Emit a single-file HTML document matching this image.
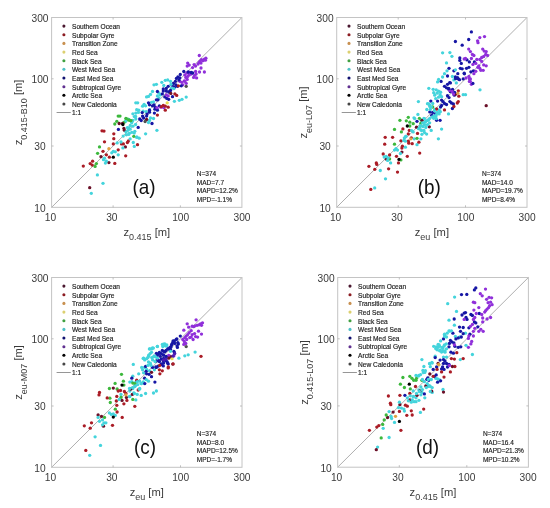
<!DOCTYPE html>
<html><head><meta charset="utf-8"><style>
html,body{margin:0;padding:0;background:#fff;width:550px;height:508px;overflow:hidden}
svg{display:block;filter:blur(0.3px)}
text{font-family:"Liberation Sans", Arial, sans-serif;fill:#333}
.tk{font-size:10.2px;fill:#3a3a3a}
.lg{font-size:6.6px;fill:#262626;stroke:#262626;stroke-width:0.18px}
.st{font-size:6.5px;fill:#202020;stroke:#202020;stroke-width:0.15px}
.lt{font-size:20.3px;fill:#111}
.lb{font-size:11.2px;fill:#3a3a3a}
.sb{font-size:9px}
</style></head><body>
<svg width="550" height="508" viewBox="0 0 550 508">
<rect width="550" height="508" fill="#fff"/>
<line x1="51.6" y1="207.35" x2="241.9" y2="17.5" stroke="#9a9a9a" stroke-width="0.8"/>
<circle cx="199.3" cy="55.5" r="1.65" fill="#9030da"/>
<circle cx="205.9" cy="58.2" r="1.65" fill="#9030da"/>
<circle cx="204.4" cy="59.2" r="1.65" fill="#9030da"/>
<circle cx="203.0" cy="60.7" r="1.65" fill="#9030da"/>
<circle cx="201.5" cy="59.7" r="1.65" fill="#9030da"/>
<circle cx="200.0" cy="61.2" r="1.65" fill="#9030da"/>
<circle cx="199.0" cy="62.6" r="1.65" fill="#9030da"/>
<circle cx="201.0" cy="63.1" r="1.65" fill="#9030da"/>
<circle cx="205.4" cy="60.2" r="1.65" fill="#9030da"/>
<circle cx="198.0" cy="64.1" r="1.65" fill="#9030da"/>
<circle cx="187.7" cy="63.1" r="1.65" fill="#9030da"/>
<circle cx="187.2" cy="66.1" r="1.65" fill="#9030da"/>
<circle cx="189.2" cy="65.1" r="1.65" fill="#9030da"/>
<circle cx="194.1" cy="64.6" r="1.65" fill="#9030da"/>
<circle cx="195.6" cy="66.1" r="1.65" fill="#9030da"/>
<circle cx="192.6" cy="67.6" r="1.65" fill="#9030da"/>
<circle cx="201.0" cy="68.0" r="1.65" fill="#9030da"/>
<circle cx="199.5" cy="72.0" r="1.65" fill="#9030da"/>
<circle cx="204.4" cy="72.0" r="1.65" fill="#9030da"/>
<circle cx="195.6" cy="71.5" r="1.65" fill="#9030da"/>
<circle cx="196.1" cy="74.0" r="1.65" fill="#9030da"/>
<circle cx="194.6" cy="75.4" r="1.65" fill="#9030da"/>
<circle cx="193.6" cy="77.4" r="1.65" fill="#9030da"/>
<circle cx="196.6" cy="77.9" r="1.65" fill="#9030da"/>
<circle cx="191.2" cy="74.0" r="1.65" fill="#9030da"/>
<circle cx="189.2" cy="74.9" r="1.65" fill="#9030da"/>
<circle cx="187.7" cy="76.4" r="1.65" fill="#9030da"/>
<circle cx="185.8" cy="77.4" r="1.65" fill="#9030da"/>
<circle cx="184.8" cy="74.9" r="1.65" fill="#9030da"/>
<circle cx="186.7" cy="73.0" r="1.65" fill="#9030da"/>
<circle cx="189.2" cy="72.5" r="1.65" fill="#9030da"/>
<circle cx="187.2" cy="79.4" r="1.65" fill="#9030da"/>
<circle cx="184.3" cy="80.8" r="1.65" fill="#9030da"/>
<circle cx="181.8" cy="82.3" r="1.65" fill="#9030da"/>
<circle cx="186.2" cy="83.3" r="1.65" fill="#9030da"/>
<circle cx="182.8" cy="84.8" r="1.65" fill="#9030da"/>
<circle cx="184.8" cy="81.3" r="1.65" fill="#9030da"/>
<circle cx="179.8" cy="81.3" r="1.65" fill="#9030da"/>
<circle cx="183.8" cy="71.5" r="1.65" fill="#1616a4"/>
<circle cx="188.2" cy="72.0" r="1.65" fill="#1616a4"/>
<circle cx="191.2" cy="72.5" r="1.65" fill="#1616a4"/>
<circle cx="192.6" cy="73.0" r="1.65" fill="#1616a4"/>
<circle cx="180.3" cy="74.5" r="1.65" fill="#1616a4"/>
<circle cx="177.9" cy="76.9" r="1.65" fill="#1616a4"/>
<circle cx="176.4" cy="78.4" r="1.65" fill="#1616a4"/>
<circle cx="179.8" cy="77.9" r="1.65" fill="#1616a4"/>
<circle cx="178.9" cy="79.9" r="1.65" fill="#1616a4"/>
<circle cx="175.4" cy="81.3" r="1.65" fill="#1616a4"/>
<circle cx="173.4" cy="83.3" r="1.65" fill="#1616a4"/>
<circle cx="172.0" cy="85.3" r="1.65" fill="#1616a4"/>
<circle cx="175.9" cy="84.8" r="1.65" fill="#1616a4"/>
<circle cx="174.4" cy="87.2" r="1.65" fill="#1616a4"/>
<circle cx="177.4" cy="86.3" r="1.65" fill="#1616a4"/>
<circle cx="181.3" cy="85.8" r="1.65" fill="#1616a4"/>
<circle cx="170.5" cy="81.3" r="1.65" fill="#44d4dc"/>
<circle cx="171.0" cy="84.3" r="1.65" fill="#44d4dc"/>
<circle cx="171.5" cy="88.2" r="1.65" fill="#44d4dc"/>
<circle cx="173.9" cy="88.7" r="1.65" fill="#44d4dc"/>
<circle cx="178.4" cy="85.8" r="1.65" fill="#aa1c26"/>
<circle cx="186.2" cy="86.3" r="1.65" fill="#505050"/>
<circle cx="154.0" cy="84.8" r="1.65" fill="#44d4dc"/>
<circle cx="156.4" cy="84.3" r="1.65" fill="#44d4dc"/>
<circle cx="161.8" cy="82.3" r="1.65" fill="#44d4dc"/>
<circle cx="165.3" cy="80.3" r="1.65" fill="#44d4dc"/>
<circle cx="167.7" cy="79.9" r="1.65" fill="#44d4dc"/>
<circle cx="163.8" cy="85.5" r="1.65" fill="#44d4dc"/>
<circle cx="168.2" cy="86.3" r="1.65" fill="#1616a4"/>
<circle cx="166.3" cy="88.4" r="1.65" fill="#1616a4"/>
<circle cx="163.3" cy="88.9" r="1.65" fill="#1616a4"/>
<circle cx="152.5" cy="91.5" r="1.65" fill="#44d4dc"/>
<circle cx="150.5" cy="94.4" r="1.65" fill="#44d4dc"/>
<circle cx="148.5" cy="96.4" r="1.65" fill="#44d4dc"/>
<circle cx="146.6" cy="96.9" r="1.65" fill="#44d4dc"/>
<circle cx="158.9" cy="93.0" r="1.65" fill="#44d4dc"/>
<circle cx="160.3" cy="94.9" r="1.65" fill="#44d4dc"/>
<circle cx="157.4" cy="95.9" r="1.65" fill="#44d4dc"/>
<circle cx="158.9" cy="97.9" r="1.65" fill="#44d4dc"/>
<circle cx="135.8" cy="102.8" r="1.65" fill="#44d4dc"/>
<circle cx="137.7" cy="102.8" r="1.65" fill="#44d4dc"/>
<circle cx="144.1" cy="104.3" r="1.65" fill="#44d4dc"/>
<circle cx="142.6" cy="106.2" r="1.65" fill="#44d4dc"/>
<circle cx="145.6" cy="105.8" r="1.65" fill="#44d4dc"/>
<circle cx="136.7" cy="109.7" r="1.65" fill="#44d4dc"/>
<circle cx="138.7" cy="110.2" r="1.65" fill="#44d4dc"/>
<circle cx="135.8" cy="113.1" r="1.65" fill="#44d4dc"/>
<circle cx="143.1" cy="111.2" r="1.65" fill="#44d4dc"/>
<circle cx="146.1" cy="111.7" r="1.65" fill="#44d4dc"/>
<circle cx="149.5" cy="109.7" r="1.65" fill="#44d4dc"/>
<circle cx="151.5" cy="102.3" r="1.65" fill="#44d4dc"/>
<circle cx="153.5" cy="101.8" r="1.65" fill="#44d4dc"/>
<circle cx="134.3" cy="116.6" r="1.65" fill="#44d4dc"/>
<circle cx="135.8" cy="119.0" r="1.65" fill="#44d4dc"/>
<circle cx="132.8" cy="120.5" r="1.65" fill="#44d4dc"/>
<circle cx="131.8" cy="122.5" r="1.65" fill="#44d4dc"/>
<circle cx="130.3" cy="125.4" r="1.65" fill="#44d4dc"/>
<circle cx="128.9" cy="127.9" r="1.65" fill="#44d4dc"/>
<circle cx="127.9" cy="130.3" r="1.65" fill="#44d4dc"/>
<circle cx="129.3" cy="133.3" r="1.65" fill="#44d4dc"/>
<circle cx="131.8" cy="132.3" r="1.65" fill="#44d4dc"/>
<circle cx="126.4" cy="134.8" r="1.65" fill="#44d4dc"/>
<circle cx="134.8" cy="131.3" r="1.65" fill="#44d4dc"/>
<circle cx="136.7" cy="137.2" r="1.65" fill="#44d4dc"/>
<circle cx="139.2" cy="138.2" r="1.65" fill="#44d4dc"/>
<circle cx="150.5" cy="118.0" r="1.65" fill="#44d4dc"/>
<circle cx="153.5" cy="118.5" r="1.65" fill="#44d4dc"/>
<circle cx="149.5" cy="120.5" r="1.65" fill="#44d4dc"/>
<circle cx="148.5" cy="122.5" r="1.65" fill="#44d4dc"/>
<circle cx="145.6" cy="133.8" r="1.65" fill="#44d4dc"/>
<circle cx="156.9" cy="130.3" r="1.65" fill="#44d4dc"/>
<circle cx="126.9" cy="119.5" r="1.65" fill="#44d4dc"/>
<circle cx="125.4" cy="121.5" r="1.65" fill="#44d4dc"/>
<circle cx="125.9" cy="118.5" r="1.65" fill="#3cb83c"/>
<circle cx="128.4" cy="119.5" r="1.65" fill="#3cb83c"/>
<circle cx="130.3" cy="120.5" r="1.65" fill="#3cb83c"/>
<circle cx="123.9" cy="122.5" r="1.65" fill="#3cb83c"/>
<circle cx="120.0" cy="116.1" r="1.65" fill="#3cb83c"/>
<circle cx="133.8" cy="136.3" r="1.65" fill="#3cb83c"/>
<circle cx="157.4" cy="91.5" r="1.65" fill="#1616a4"/>
<circle cx="163.3" cy="91.0" r="1.65" fill="#1616a4"/>
<circle cx="166.3" cy="91.0" r="1.65" fill="#1616a4"/>
<circle cx="168.7" cy="92.0" r="1.65" fill="#1616a4"/>
<circle cx="162.3" cy="93.9" r="1.65" fill="#1616a4"/>
<circle cx="164.8" cy="96.9" r="1.65" fill="#1616a4"/>
<circle cx="166.8" cy="98.4" r="1.65" fill="#1616a4"/>
<circle cx="168.7" cy="99.3" r="1.65" fill="#1616a4"/>
<circle cx="156.4" cy="99.8" r="1.65" fill="#1616a4"/>
<circle cx="157.9" cy="99.8" r="1.65" fill="#1616a4"/>
<circle cx="148.5" cy="102.8" r="1.65" fill="#1616a4"/>
<circle cx="149.5" cy="104.8" r="1.65" fill="#1616a4"/>
<circle cx="152.5" cy="105.8" r="1.65" fill="#1616a4"/>
<circle cx="154.0" cy="104.8" r="1.65" fill="#1616a4"/>
<circle cx="155.4" cy="107.2" r="1.65" fill="#1616a4"/>
<circle cx="156.9" cy="108.7" r="1.65" fill="#1616a4"/>
<circle cx="159.4" cy="105.8" r="1.65" fill="#1616a4"/>
<circle cx="157.4" cy="110.2" r="1.65" fill="#1616a4"/>
<circle cx="154.4" cy="113.1" r="1.65" fill="#1616a4"/>
<circle cx="149.5" cy="110.2" r="1.65" fill="#1616a4"/>
<circle cx="149.5" cy="112.2" r="1.65" fill="#1616a4"/>
<circle cx="147.1" cy="114.1" r="1.65" fill="#1616a4"/>
<circle cx="142.2" cy="112.6" r="1.65" fill="#1616a4"/>
<circle cx="142.6" cy="116.1" r="1.65" fill="#1616a4"/>
<circle cx="146.6" cy="116.1" r="1.65" fill="#1616a4"/>
<circle cx="139.7" cy="119.0" r="1.65" fill="#1616a4"/>
<circle cx="141.2" cy="120.5" r="1.65" fill="#1616a4"/>
<circle cx="143.6" cy="118.0" r="1.65" fill="#1616a4"/>
<circle cx="138.2" cy="127.4" r="1.65" fill="#1616a4"/>
<circle cx="152.0" cy="123.5" r="1.65" fill="#1616a4"/>
<circle cx="154.9" cy="109.2" r="1.65" fill="#1616a4"/>
<circle cx="168.2" cy="95.9" r="1.65" fill="#9030da"/>
<circle cx="166.3" cy="94.9" r="1.65" fill="#9030da"/>
<circle cx="160.8" cy="107.2" r="1.65" fill="#9030da"/>
<circle cx="156.9" cy="107.7" r="1.65" fill="#9030da"/>
<circle cx="163.8" cy="107.7" r="1.65" fill="#9030da"/>
<circle cx="163.3" cy="105.3" r="1.65" fill="#aa1c26"/>
<circle cx="165.3" cy="106.2" r="1.65" fill="#aa1c26"/>
<circle cx="168.2" cy="107.2" r="1.65" fill="#aa1c26"/>
<circle cx="165.3" cy="110.2" r="1.65" fill="#aa1c26"/>
<circle cx="157.4" cy="115.1" r="1.65" fill="#aa1c26"/>
<circle cx="161.3" cy="106.7" r="1.65" fill="#aa1c26"/>
<circle cx="122.5" cy="123.5" r="1.65" fill="#6a1028"/>
<circle cx="123.9" cy="128.4" r="1.65" fill="#6a1028"/>
<circle cx="124.4" cy="130.3" r="1.65" fill="#6a1028"/>
<circle cx="122.9" cy="124.5" r="1.65" fill="#000000"/>
<circle cx="167.2" cy="102.8" r="1.65" fill="#e8e050"/>
<circle cx="146.6" cy="119.5" r="1.65" fill="#6a1028"/>
<circle cx="145.1" cy="121.5" r="1.65" fill="#505050"/>
<circle cx="170.5" cy="90.5" r="1.65" fill="#1616a4"/>
<circle cx="170.8" cy="93.4" r="1.65" fill="#6a1028"/>
<circle cx="172.5" cy="96.7" r="1.65" fill="#1616a4"/>
<circle cx="174.9" cy="93.9" r="1.65" fill="#aa1c26"/>
<circle cx="176.7" cy="95.4" r="1.65" fill="#aa1c26"/>
<circle cx="174.4" cy="101.3" r="1.65" fill="#44d4dc"/>
<circle cx="179.3" cy="100.3" r="1.65" fill="#44d4dc"/>
<circle cx="182.0" cy="99.3" r="1.65" fill="#44d4dc"/>
<circle cx="186.2" cy="97.1" r="1.65" fill="#44d4dc"/>
<circle cx="118.2" cy="116.1" r="1.65" fill="#3cb83c"/>
<circle cx="116.8" cy="121.3" r="1.65" fill="#3cb83c"/>
<circle cx="114.8" cy="124.0" r="1.65" fill="#3cb83c"/>
<circle cx="102.0" cy="130.8" r="1.65" fill="#aa1c26"/>
<circle cx="104.0" cy="131.1" r="1.65" fill="#aa1c26"/>
<circle cx="113.8" cy="133.8" r="1.65" fill="#aa1c26"/>
<circle cx="113.8" cy="138.7" r="1.65" fill="#aa1c26"/>
<circle cx="118.4" cy="129.4" r="1.65" fill="#1616a4"/>
<circle cx="119.2" cy="123.5" r="1.65" fill="#6a1028"/>
<circle cx="104.5" cy="141.8" r="1.65" fill="#aa1c26"/>
<circle cx="113.3" cy="143.9" r="1.65" fill="#aa1c26"/>
<circle cx="118.2" cy="149.8" r="1.65" fill="#aa1c26"/>
<circle cx="109.4" cy="157.2" r="1.65" fill="#aa1c26"/>
<circle cx="103.0" cy="151.3" r="1.65" fill="#aa1c26"/>
<circle cx="106.4" cy="154.8" r="1.65" fill="#aa1c26"/>
<circle cx="92.6" cy="161.2" r="1.65" fill="#aa1c26"/>
<circle cx="90.2" cy="163.6" r="1.65" fill="#aa1c26"/>
<circle cx="92.2" cy="165.1" r="1.65" fill="#aa1c26"/>
<circle cx="83.3" cy="166.1" r="1.65" fill="#aa1c26"/>
<circle cx="114.8" cy="163.4" r="1.65" fill="#aa1c26"/>
<circle cx="89.7" cy="187.7" r="1.65" fill="#6a1028"/>
<circle cx="101.0" cy="156.7" r="1.65" fill="#6a1028"/>
<circle cx="108.9" cy="162.6" r="1.65" fill="#6a1028"/>
<circle cx="99.5" cy="146.9" r="1.65" fill="#3cb83c"/>
<circle cx="97.6" cy="153.3" r="1.65" fill="#3cb83c"/>
<circle cx="96.4" cy="163.6" r="1.65" fill="#3cb83c"/>
<circle cx="95.1" cy="166.4" r="1.65" fill="#3cb83c"/>
<circle cx="108.9" cy="148.7" r="1.65" fill="#e0a040"/>
<circle cx="113.3" cy="151.3" r="1.65" fill="#44d4dc"/>
<circle cx="111.8" cy="152.8" r="1.65" fill="#44d4dc"/>
<circle cx="115.3" cy="151.8" r="1.65" fill="#44d4dc"/>
<circle cx="118.2" cy="154.8" r="1.65" fill="#44d4dc"/>
<circle cx="104.5" cy="158.2" r="1.65" fill="#44d4dc"/>
<circle cx="103.5" cy="159.7" r="1.65" fill="#44d4dc"/>
<circle cx="106.4" cy="161.2" r="1.65" fill="#44d4dc"/>
<circle cx="105.4" cy="163.1" r="1.65" fill="#44d4dc"/>
<circle cx="97.4" cy="174.9" r="1.65" fill="#44d4dc"/>
<circle cx="103.0" cy="183.3" r="1.65" fill="#44d4dc"/>
<circle cx="117.2" cy="142.9" r="1.65" fill="#44d4dc"/>
<circle cx="113.3" cy="157.2" r="1.65" fill="#000000"/>
<circle cx="128.4" cy="141.0" r="1.65" fill="#aa1c26"/>
<circle cx="127.4" cy="142.5" r="1.65" fill="#aa1c26"/>
<circle cx="121.5" cy="143.9" r="1.65" fill="#aa1c26"/>
<circle cx="123.4" cy="143.9" r="1.65" fill="#aa1c26"/>
<circle cx="125.4" cy="146.9" r="1.65" fill="#6a1028"/>
<circle cx="137.5" cy="144.7" r="1.65" fill="#aa1c26"/>
<circle cx="125.7" cy="155.8" r="1.65" fill="#aa1c26"/>
<circle cx="122.9" cy="147.9" r="1.65" fill="#44d4dc"/>
<circle cx="133.3" cy="142.5" r="1.65" fill="#44d4dc"/>
<circle cx="134.3" cy="146.4" r="1.65" fill="#44d4dc"/>
<circle cx="121.0" cy="142.0" r="1.65" fill="#44d4dc"/>
<circle cx="91.3" cy="193.3" r="1.65" fill="#44d4dc"/>
<circle cx="126.0" cy="120.7" r="1.65" fill="#44d4dc"/>
<circle cx="128.7" cy="119.3" r="1.65" fill="#44d4dc"/>
<circle cx="131.5" cy="122.0" r="1.65" fill="#44d4dc"/>
<circle cx="127.4" cy="127.6" r="1.65" fill="#44d4dc"/>
<circle cx="130.1" cy="129.2" r="1.65" fill="#44d4dc"/>
<circle cx="132.9" cy="126.2" r="1.65" fill="#44d4dc"/>
<circle cx="135.6" cy="124.5" r="1.65" fill="#44d4dc"/>
<circle cx="126.0" cy="132.0" r="1.65" fill="#44d4dc"/>
<circle cx="128.7" cy="134.4" r="1.65" fill="#44d4dc"/>
<circle cx="134.2" cy="133.1" r="1.65" fill="#44d4dc"/>
<circle cx="137.0" cy="137.2" r="1.65" fill="#44d4dc"/>
<circle cx="123.2" cy="136.1" r="1.65" fill="#44d4dc"/>
<circle cx="130.1" cy="138.9" r="1.65" fill="#44d4dc"/>
<circle cx="135.6" cy="116.5" r="1.65" fill="#44d4dc"/>
<circle cx="138.4" cy="112.4" r="1.65" fill="#44d4dc"/>
<circle cx="132.9" cy="113.8" r="1.65" fill="#44d4dc"/>
<circle cx="126.3" cy="118.6" r="1.65" fill="#3cb83c"/>
<circle cx="128.7" cy="120.0" r="1.65" fill="#3cb83c"/>
<circle cx="130.9" cy="120.6" r="1.65" fill="#3cb83c"/>
<rect x="51.6" y="17.5" width="190.3" height="189.85" fill="none" stroke="#c4c4c4" stroke-width="1"/>
<line x1="113.1" y1="207.35" x2="113.1" y2="205.35" stroke="#b0b0b0" stroke-width="0.8"/>
<line x1="113.1" y1="17.5" x2="113.1" y2="19.5" stroke="#b0b0b0" stroke-width="0.8"/>
<line x1="51.6" y1="146.0" x2="53.6" y2="146.0" stroke="#b0b0b0" stroke-width="0.8"/>
<line x1="241.9" y1="146.0" x2="239.9" y2="146.0" stroke="#b0b0b0" stroke-width="0.8"/>
<line x1="180.4" y1="207.35" x2="180.4" y2="205.35" stroke="#b0b0b0" stroke-width="0.8"/>
<line x1="180.4" y1="17.5" x2="180.4" y2="19.5" stroke="#b0b0b0" stroke-width="0.8"/>
<line x1="51.6" y1="78.8" x2="53.6" y2="78.8" stroke="#b0b0b0" stroke-width="0.8"/>
<line x1="241.9" y1="78.8" x2="239.9" y2="78.8" stroke="#b0b0b0" stroke-width="0.8"/>
<text x="40.0" y="211.7" class="tk" text-anchor="middle">10</text>
<text x="50.5" y="221.0" class="tk" text-anchor="middle">10</text>
<text x="40.0" y="150.3" class="tk" text-anchor="middle">30</text>
<text x="111.8" y="221.0" class="tk" text-anchor="middle">30</text>
<text x="40.0" y="83.1" class="tk" text-anchor="middle">100</text>
<text x="180.7" y="221.0" class="tk" text-anchor="middle">100</text>
<text x="40.0" y="21.8" class="tk" text-anchor="middle">300</text>
<text x="242.0" y="221.0" class="tk" text-anchor="middle">300</text>
<circle cx="63.9" cy="26.1" r="1.55" fill="#4a1830"/>
<text x="72.0" y="28.9" class="lg">Southern Ocean</text>
<circle cx="63.9" cy="34.8" r="1.55" fill="#8c1c22"/>
<text x="72.0" y="37.5" class="lg">Subpolar Gyre</text>
<circle cx="63.9" cy="43.4" r="1.55" fill="#c89050"/>
<text x="72.0" y="46.2" class="lg">Transition Zone</text>
<circle cx="63.9" cy="52.1" r="1.55" fill="#dcd070"/>
<text x="72.0" y="54.9" class="lg">Red Sea</text>
<circle cx="63.9" cy="60.7" r="1.55" fill="#40a040"/>
<text x="72.0" y="63.5" class="lg">Black Sea</text>
<circle cx="63.9" cy="69.3" r="1.55" fill="#50c0c8"/>
<text x="72.0" y="72.2" class="lg">West Med Sea</text>
<circle cx="63.9" cy="78.0" r="1.55" fill="#101070"/>
<text x="72.0" y="80.8" class="lg">East Med Sea</text>
<circle cx="63.9" cy="86.7" r="1.55" fill="#603090"/>
<text x="72.0" y="89.5" class="lg">Subtropical Gyre</text>
<circle cx="63.9" cy="95.3" r="1.55" fill="#000000"/>
<text x="72.0" y="98.1" class="lg">Arctic Sea</text>
<circle cx="63.9" cy="104.0" r="1.55" fill="#454545"/>
<text x="72.0" y="106.8" class="lg">New Caledonia</text>
<line x1="56.6" y1="112.5" x2="70.8" y2="112.5" stroke="#8a8a8a" stroke-width="0.9"/>
<text x="72.0" y="115.4" class="lg">1:1</text>
<text x="196.8" y="175.7" class="st">N=374</text>
<text x="196.8" y="184.5" class="st">MAD=7.7</text>
<text x="196.8" y="193.3" class="st">MAPD=12.2%</text>
<text x="196.8" y="202.1" class="st">MPD=-1.1%</text>
<text transform="translate(144.1,193.7) scale(0.93,1.01)" class="lt" text-anchor="middle">(a)</text>
<text x="146.8" y="235.8" class="lb" text-anchor="middle">z<tspan class="sb" dy="4.6">0.415</tspan><tspan dy="-4.6"> [m]</tspan></text>
<text transform="translate(22.1,112.4) rotate(-90)" class="lb" text-anchor="middle">z<tspan class="sb" dy="4.6">0.415-B10</tspan><tspan dy="-4.6"> [m]</tspan></text>
<line x1="336.7" y1="207.3" x2="527.0" y2="17.5" stroke="#9a9a9a" stroke-width="0.8"/>
<circle cx="471.4" cy="31.9" r="1.65" fill="#1616a4"/>
<circle cx="468.7" cy="39.5" r="1.65" fill="#1616a4"/>
<circle cx="467.0" cy="59.9" r="1.65" fill="#1616a4"/>
<circle cx="469.4" cy="61.9" r="1.65" fill="#1616a4"/>
<circle cx="474.4" cy="61.9" r="1.65" fill="#1616a4"/>
<circle cx="468.9" cy="67.3" r="1.65" fill="#1616a4"/>
<circle cx="466.5" cy="68.3" r="1.65" fill="#1616a4"/>
<circle cx="473.4" cy="70.8" r="1.65" fill="#1616a4"/>
<circle cx="470.9" cy="71.8" r="1.65" fill="#1616a4"/>
<circle cx="479.8" cy="37.6" r="1.65" fill="#9030da"/>
<circle cx="484.5" cy="36.6" r="1.65" fill="#9030da"/>
<circle cx="477.6" cy="40.8" r="1.65" fill="#9030da"/>
<circle cx="478.0" cy="42.7" r="1.65" fill="#9030da"/>
<circle cx="468.7" cy="49.1" r="1.65" fill="#9030da"/>
<circle cx="470.4" cy="51.6" r="1.65" fill="#9030da"/>
<circle cx="472.4" cy="54.5" r="1.65" fill="#9030da"/>
<circle cx="473.9" cy="55.5" r="1.65" fill="#9030da"/>
<circle cx="482.7" cy="49.1" r="1.65" fill="#9030da"/>
<circle cx="484.2" cy="51.1" r="1.65" fill="#9030da"/>
<circle cx="486.2" cy="51.6" r="1.65" fill="#9030da"/>
<circle cx="487.6" cy="55.5" r="1.65" fill="#9030da"/>
<circle cx="485.7" cy="54.5" r="1.65" fill="#9030da"/>
<circle cx="483.7" cy="56.5" r="1.65" fill="#9030da"/>
<circle cx="481.7" cy="57.5" r="1.65" fill="#9030da"/>
<circle cx="479.8" cy="59.5" r="1.65" fill="#9030da"/>
<circle cx="481.7" cy="61.4" r="1.65" fill="#9030da"/>
<circle cx="476.8" cy="59.5" r="1.65" fill="#9030da"/>
<circle cx="475.8" cy="63.4" r="1.65" fill="#9030da"/>
<circle cx="472.9" cy="64.4" r="1.65" fill="#9030da"/>
<circle cx="471.4" cy="58.5" r="1.65" fill="#9030da"/>
<circle cx="465.5" cy="58.5" r="1.65" fill="#9030da"/>
<circle cx="483.7" cy="64.9" r="1.65" fill="#9030da"/>
<circle cx="486.2" cy="65.8" r="1.65" fill="#9030da"/>
<circle cx="483.2" cy="70.3" r="1.65" fill="#9030da"/>
<circle cx="479.8" cy="68.3" r="1.65" fill="#9030da"/>
<circle cx="480.8" cy="70.3" r="1.65" fill="#9030da"/>
<circle cx="477.8" cy="67.3" r="1.65" fill="#9030da"/>
<circle cx="475.8" cy="71.3" r="1.65" fill="#9030da"/>
<circle cx="473.9" cy="73.7" r="1.65" fill="#9030da"/>
<circle cx="478.8" cy="65.8" r="1.65" fill="#9030da"/>
<circle cx="455.4" cy="41.5" r="1.65" fill="#1616a4"/>
<circle cx="462.2" cy="45.2" r="1.65" fill="#1616a4"/>
<circle cx="459.8" cy="58.0" r="1.65" fill="#1616a4"/>
<circle cx="459.8" cy="60.4" r="1.65" fill="#1616a4"/>
<circle cx="461.3" cy="63.4" r="1.65" fill="#1616a4"/>
<circle cx="449.0" cy="68.3" r="1.65" fill="#1616a4"/>
<circle cx="453.9" cy="70.8" r="1.65" fill="#1616a4"/>
<circle cx="460.3" cy="68.3" r="1.65" fill="#1616a4"/>
<circle cx="462.2" cy="68.8" r="1.65" fill="#1616a4"/>
<circle cx="457.8" cy="73.7" r="1.65" fill="#1616a4"/>
<circle cx="464.2" cy="73.2" r="1.65" fill="#1616a4"/>
<circle cx="442.6" cy="52.8" r="1.65" fill="#44d4dc"/>
<circle cx="449.9" cy="52.6" r="1.65" fill="#44d4dc"/>
<circle cx="451.9" cy="56.3" r="1.65" fill="#44d4dc"/>
<circle cx="446.5" cy="62.9" r="1.65" fill="#44d4dc"/>
<circle cx="447.0" cy="70.8" r="1.65" fill="#44d4dc"/>
<circle cx="444.5" cy="73.7" r="1.65" fill="#44d4dc"/>
<circle cx="455.4" cy="69.8" r="1.65" fill="#44d4dc"/>
<circle cx="464.2" cy="59.0" r="1.65" fill="#9030da"/>
<circle cx="447.5" cy="76.0" r="1.65" fill="#1616a4"/>
<circle cx="455.4" cy="77.0" r="1.65" fill="#1616a4"/>
<circle cx="458.3" cy="78.9" r="1.65" fill="#1616a4"/>
<circle cx="463.2" cy="78.9" r="1.65" fill="#1616a4"/>
<circle cx="441.1" cy="81.4" r="1.65" fill="#1616a4"/>
<circle cx="450.4" cy="82.9" r="1.65" fill="#1616a4"/>
<circle cx="447.5" cy="84.3" r="1.65" fill="#1616a4"/>
<circle cx="444.5" cy="86.3" r="1.65" fill="#1616a4"/>
<circle cx="446.5" cy="87.8" r="1.65" fill="#1616a4"/>
<circle cx="449.0" cy="89.3" r="1.65" fill="#1616a4"/>
<circle cx="451.4" cy="90.3" r="1.65" fill="#1616a4"/>
<circle cx="452.9" cy="92.2" r="1.65" fill="#1616a4"/>
<circle cx="454.4" cy="95.2" r="1.65" fill="#1616a4"/>
<circle cx="447.5" cy="95.7" r="1.65" fill="#1616a4"/>
<circle cx="449.0" cy="97.6" r="1.65" fill="#1616a4"/>
<circle cx="441.6" cy="100.1" r="1.65" fill="#1616a4"/>
<circle cx="443.0" cy="101.6" r="1.65" fill="#1616a4"/>
<circle cx="437.6" cy="101.1" r="1.65" fill="#1616a4"/>
<circle cx="430.8" cy="101.1" r="1.65" fill="#1616a4"/>
<circle cx="444.5" cy="103.5" r="1.65" fill="#1616a4"/>
<circle cx="446.5" cy="104.5" r="1.65" fill="#1616a4"/>
<circle cx="449.9" cy="101.6" r="1.65" fill="#1616a4"/>
<circle cx="451.4" cy="103.0" r="1.65" fill="#1616a4"/>
<circle cx="453.4" cy="104.0" r="1.65" fill="#1616a4"/>
<circle cx="452.4" cy="108.5" r="1.65" fill="#1616a4"/>
<circle cx="441.6" cy="105.5" r="1.65" fill="#1616a4"/>
<circle cx="440.6" cy="107.0" r="1.65" fill="#1616a4"/>
<circle cx="429.8" cy="111.9" r="1.65" fill="#1616a4"/>
<circle cx="432.7" cy="112.4" r="1.65" fill="#1616a4"/>
<circle cx="435.2" cy="113.9" r="1.65" fill="#1616a4"/>
<circle cx="431.7" cy="115.3" r="1.65" fill="#1616a4"/>
<circle cx="436.6" cy="120.3" r="1.65" fill="#1616a4"/>
<circle cx="440.1" cy="120.3" r="1.65" fill="#1616a4"/>
<circle cx="417.0" cy="121.3" r="1.65" fill="#1616a4"/>
<circle cx="450.4" cy="91.7" r="1.65" fill="#1616a4"/>
<circle cx="438.6" cy="79.4" r="1.65" fill="#44d4dc"/>
<circle cx="442.6" cy="77.0" r="1.65" fill="#44d4dc"/>
<circle cx="452.4" cy="76.5" r="1.65" fill="#44d4dc"/>
<circle cx="453.9" cy="79.9" r="1.65" fill="#44d4dc"/>
<circle cx="456.3" cy="82.9" r="1.65" fill="#44d4dc"/>
<circle cx="437.6" cy="81.9" r="1.65" fill="#44d4dc"/>
<circle cx="428.8" cy="88.3" r="1.65" fill="#44d4dc"/>
<circle cx="433.2" cy="89.3" r="1.65" fill="#44d4dc"/>
<circle cx="436.2" cy="89.8" r="1.65" fill="#44d4dc"/>
<circle cx="438.6" cy="91.2" r="1.65" fill="#44d4dc"/>
<circle cx="433.7" cy="92.7" r="1.65" fill="#44d4dc"/>
<circle cx="437.1" cy="93.2" r="1.65" fill="#44d4dc"/>
<circle cx="434.7" cy="95.2" r="1.65" fill="#44d4dc"/>
<circle cx="440.1" cy="94.7" r="1.65" fill="#44d4dc"/>
<circle cx="441.6" cy="96.7" r="1.65" fill="#44d4dc"/>
<circle cx="438.6" cy="97.2" r="1.65" fill="#44d4dc"/>
<circle cx="440.6" cy="92.2" r="1.65" fill="#44d4dc"/>
<circle cx="435.7" cy="98.6" r="1.65" fill="#44d4dc"/>
<circle cx="418.4" cy="101.6" r="1.65" fill="#44d4dc"/>
<circle cx="428.8" cy="104.0" r="1.65" fill="#44d4dc"/>
<circle cx="432.7" cy="103.5" r="1.65" fill="#44d4dc"/>
<circle cx="429.8" cy="106.5" r="1.65" fill="#44d4dc"/>
<circle cx="426.8" cy="109.5" r="1.65" fill="#44d4dc"/>
<circle cx="430.3" cy="109.5" r="1.65" fill="#44d4dc"/>
<circle cx="434.7" cy="109.5" r="1.65" fill="#44d4dc"/>
<circle cx="439.1" cy="109.9" r="1.65" fill="#44d4dc"/>
<circle cx="437.1" cy="112.4" r="1.65" fill="#44d4dc"/>
<circle cx="439.1" cy="113.9" r="1.65" fill="#44d4dc"/>
<circle cx="435.7" cy="116.3" r="1.65" fill="#44d4dc"/>
<circle cx="433.7" cy="118.3" r="1.65" fill="#44d4dc"/>
<circle cx="429.8" cy="118.3" r="1.65" fill="#44d4dc"/>
<circle cx="427.8" cy="120.3" r="1.65" fill="#44d4dc"/>
<circle cx="425.8" cy="121.3" r="1.65" fill="#44d4dc"/>
<circle cx="423.9" cy="118.3" r="1.65" fill="#44d4dc"/>
<circle cx="420.9" cy="119.8" r="1.65" fill="#44d4dc"/>
<circle cx="417.9" cy="114.4" r="1.65" fill="#44d4dc"/>
<circle cx="448.5" cy="113.9" r="1.65" fill="#44d4dc"/>
<circle cx="463.2" cy="94.7" r="1.65" fill="#44d4dc"/>
<circle cx="424.8" cy="122.2" r="1.65" fill="#44d4dc"/>
<circle cx="458.3" cy="90.8" r="1.65" fill="#aa1c26"/>
<circle cx="458.8" cy="96.2" r="1.65" fill="#aa1c26"/>
<circle cx="458.3" cy="101.6" r="1.65" fill="#aa1c26"/>
<circle cx="457.3" cy="103.0" r="1.65" fill="#aa1c26"/>
<circle cx="444.5" cy="109.9" r="1.65" fill="#aa1c26"/>
<circle cx="453.9" cy="106.5" r="1.65" fill="#aa1c26"/>
<circle cx="436.6" cy="109.0" r="1.65" fill="#aa1c26"/>
<circle cx="455.4" cy="94.2" r="1.65" fill="#6a1028"/>
<circle cx="421.9" cy="120.3" r="1.65" fill="#6a1028"/>
<circle cx="457.8" cy="93.2" r="1.65" fill="#e0a040"/>
<circle cx="419.4" cy="118.3" r="1.65" fill="#3cb83c"/>
<circle cx="420.9" cy="123.2" r="1.65" fill="#3cb83c"/>
<circle cx="432.7" cy="107.0" r="1.65" fill="#3cb83c"/>
<circle cx="449.4" cy="90.3" r="1.65" fill="#9030da"/>
<circle cx="468.9" cy="76.5" r="1.65" fill="#9030da"/>
<circle cx="470.4" cy="78.9" r="1.65" fill="#9030da"/>
<circle cx="469.4" cy="81.4" r="1.65" fill="#9030da"/>
<circle cx="471.4" cy="84.3" r="1.65" fill="#9030da"/>
<circle cx="466.0" cy="78.0" r="1.65" fill="#9030da"/>
<circle cx="472.9" cy="83.4" r="1.65" fill="#1616a4"/>
<circle cx="480.0" cy="89.8" r="1.65" fill="#44d4dc"/>
<circle cx="465.5" cy="94.7" r="1.65" fill="#44d4dc"/>
<circle cx="486.2" cy="105.7" r="1.65" fill="#6a1028"/>
<circle cx="399.9" cy="120.3" r="1.65" fill="#3cb83c"/>
<circle cx="408.3" cy="117.3" r="1.65" fill="#3cb83c"/>
<circle cx="406.3" cy="120.8" r="1.65" fill="#3cb83c"/>
<circle cx="409.8" cy="122.2" r="1.65" fill="#3cb83c"/>
<circle cx="413.2" cy="123.7" r="1.65" fill="#3cb83c"/>
<circle cx="414.0" cy="117.8" r="1.65" fill="#44d4dc"/>
<circle cx="402.9" cy="128.9" r="1.65" fill="#aa1c26"/>
<circle cx="409.3" cy="130.4" r="1.65" fill="#aa1c26"/>
<circle cx="408.3" cy="133.9" r="1.65" fill="#aa1c26"/>
<circle cx="385.2" cy="137.3" r="1.65" fill="#aa1c26"/>
<circle cx="392.6" cy="137.3" r="1.65" fill="#aa1c26"/>
<circle cx="384.7" cy="144.2" r="1.65" fill="#aa1c26"/>
<circle cx="400.9" cy="140.8" r="1.65" fill="#aa1c26"/>
<circle cx="408.3" cy="141.2" r="1.65" fill="#aa1c26"/>
<circle cx="412.2" cy="143.7" r="1.65" fill="#aa1c26"/>
<circle cx="408.8" cy="143.2" r="1.65" fill="#aa1c26"/>
<circle cx="402.4" cy="146.2" r="1.65" fill="#aa1c26"/>
<circle cx="401.9" cy="148.1" r="1.65" fill="#aa1c26"/>
<circle cx="396.5" cy="156.3" r="1.65" fill="#aa1c26"/>
<circle cx="407.3" cy="156.3" r="1.65" fill="#aa1c26"/>
<circle cx="398.5" cy="162.9" r="1.65" fill="#aa1c26"/>
<circle cx="376.3" cy="162.9" r="1.65" fill="#aa1c26"/>
<circle cx="376.8" cy="164.4" r="1.65" fill="#aa1c26"/>
<circle cx="368.9" cy="166.3" r="1.65" fill="#aa1c26"/>
<circle cx="374.8" cy="169.3" r="1.65" fill="#aa1c26"/>
<circle cx="388.6" cy="168.8" r="1.65" fill="#aa1c26"/>
<circle cx="397.5" cy="172.1" r="1.65" fill="#aa1c26"/>
<circle cx="383.2" cy="154.0" r="1.65" fill="#aa1c26"/>
<circle cx="389.6" cy="155.0" r="1.65" fill="#aa1c26"/>
<circle cx="411.3" cy="137.8" r="1.65" fill="#aa1c26"/>
<circle cx="401.9" cy="152.1" r="1.65" fill="#6a1028"/>
<circle cx="386.2" cy="159.0" r="1.65" fill="#6a1028"/>
<circle cx="394.5" cy="129.4" r="1.65" fill="#3cb83c"/>
<circle cx="401.4" cy="131.9" r="1.65" fill="#3cb83c"/>
<circle cx="394.5" cy="144.2" r="1.65" fill="#3cb83c"/>
<circle cx="389.6" cy="159.0" r="1.65" fill="#3cb83c"/>
<circle cx="400.9" cy="159.9" r="1.65" fill="#3cb83c"/>
<circle cx="409.8" cy="126.0" r="1.65" fill="#3cb83c"/>
<circle cx="407.3" cy="126.0" r="1.65" fill="#000000"/>
<circle cx="399.0" cy="159.4" r="1.65" fill="#000000"/>
<circle cx="404.4" cy="137.8" r="1.65" fill="#44d4dc"/>
<circle cx="405.9" cy="136.3" r="1.65" fill="#44d4dc"/>
<circle cx="403.9" cy="140.3" r="1.65" fill="#44d4dc"/>
<circle cx="405.4" cy="141.2" r="1.65" fill="#44d4dc"/>
<circle cx="396.0" cy="148.6" r="1.65" fill="#44d4dc"/>
<circle cx="397.5" cy="150.1" r="1.65" fill="#44d4dc"/>
<circle cx="394.5" cy="150.1" r="1.65" fill="#44d4dc"/>
<circle cx="400.4" cy="153.5" r="1.65" fill="#44d4dc"/>
<circle cx="405.4" cy="147.2" r="1.65" fill="#44d4dc"/>
<circle cx="384.2" cy="157.0" r="1.65" fill="#44d4dc"/>
<circle cx="386.2" cy="156.5" r="1.65" fill="#44d4dc"/>
<circle cx="388.1" cy="158.0" r="1.65" fill="#44d4dc"/>
<circle cx="387.6" cy="160.4" r="1.65" fill="#44d4dc"/>
<circle cx="390.6" cy="162.9" r="1.65" fill="#44d4dc"/>
<circle cx="380.3" cy="170.5" r="1.65" fill="#44d4dc"/>
<circle cx="413.2" cy="131.9" r="1.65" fill="#44d4dc"/>
<circle cx="414.2" cy="138.8" r="1.65" fill="#44d4dc"/>
<circle cx="410.8" cy="138.8" r="1.65" fill="#e0a040"/>
<circle cx="419.9" cy="127.0" r="1.65" fill="#44d4dc"/>
<circle cx="422.9" cy="126.5" r="1.65" fill="#44d4dc"/>
<circle cx="425.8" cy="127.5" r="1.65" fill="#44d4dc"/>
<circle cx="420.9" cy="129.9" r="1.65" fill="#44d4dc"/>
<circle cx="423.9" cy="130.4" r="1.65" fill="#44d4dc"/>
<circle cx="421.9" cy="134.3" r="1.65" fill="#44d4dc"/>
<circle cx="426.6" cy="134.1" r="1.65" fill="#44d4dc"/>
<circle cx="431.2" cy="130.4" r="1.65" fill="#44d4dc"/>
<circle cx="441.6" cy="129.1" r="1.65" fill="#44d4dc"/>
<circle cx="438.4" cy="138.8" r="1.65" fill="#44d4dc"/>
<circle cx="420.9" cy="138.8" r="1.65" fill="#44d4dc"/>
<circle cx="417.0" cy="144.7" r="1.65" fill="#44d4dc"/>
<circle cx="429.3" cy="126.8" r="1.65" fill="#6a1028"/>
<circle cx="416.5" cy="127.2" r="1.65" fill="#6a1028"/>
<circle cx="417.5" cy="133.4" r="1.65" fill="#aa1c26"/>
<circle cx="418.9" cy="142.2" r="1.65" fill="#aa1c26"/>
<circle cx="419.7" cy="153.1" r="1.65" fill="#aa1c26"/>
<circle cx="417.0" cy="138.3" r="1.65" fill="#3cb83c"/>
<circle cx="385.5" cy="178.8" r="1.65" fill="#44d4dc"/>
<circle cx="370.8" cy="189.4" r="1.65" fill="#aa1c26"/>
<circle cx="374.7" cy="187.9" r="1.65" fill="#44d4dc"/>
<circle cx="424.5" cy="118.6" r="1.65" fill="#44d4dc"/>
<circle cx="426.5" cy="120.8" r="1.65" fill="#44d4dc"/>
<circle cx="428.7" cy="119.6" r="1.65" fill="#44d4dc"/>
<circle cx="422.6" cy="122.8" r="1.65" fill="#44d4dc"/>
<circle cx="424.5" cy="124.7" r="1.65" fill="#44d4dc"/>
<circle cx="420.6" cy="125.7" r="1.65" fill="#44d4dc"/>
<circle cx="418.6" cy="128.7" r="1.65" fill="#44d4dc"/>
<circle cx="421.6" cy="130.6" r="1.65" fill="#44d4dc"/>
<circle cx="424.5" cy="132.6" r="1.65" fill="#44d4dc"/>
<circle cx="427.5" cy="124.7" r="1.65" fill="#44d4dc"/>
<circle cx="429.6" cy="122.8" r="1.65" fill="#44d4dc"/>
<circle cx="432.4" cy="116.8" r="1.65" fill="#44d4dc"/>
<circle cx="434.4" cy="115.9" r="1.65" fill="#44d4dc"/>
<circle cx="436.3" cy="114.7" r="1.65" fill="#44d4dc"/>
<circle cx="438.3" cy="112.9" r="1.65" fill="#44d4dc"/>
<circle cx="440.3" cy="111.7" r="1.65" fill="#44d4dc"/>
<circle cx="434.4" cy="110.8" r="1.65" fill="#44d4dc"/>
<circle cx="429.4" cy="104.8" r="1.65" fill="#44d4dc"/>
<circle cx="427.5" cy="103.7" r="1.65" fill="#44d4dc"/>
<circle cx="431.4" cy="106.8" r="1.65" fill="#44d4dc"/>
<circle cx="436.3" cy="118.6" r="1.65" fill="#44d4dc"/>
<circle cx="414.7" cy="118.6" r="1.65" fill="#44d4dc"/>
<circle cx="411.7" cy="130.6" r="1.65" fill="#44d4dc"/>
<circle cx="405.8" cy="136.3" r="1.65" fill="#44d4dc"/>
<circle cx="449.7" cy="82.6" r="1.65" fill="#1616a4"/>
<circle cx="448.7" cy="88.5" r="1.65" fill="#1616a4"/>
<circle cx="452.6" cy="89.5" r="1.65" fill="#1616a4"/>
<circle cx="454.6" cy="92.5" r="1.65" fill="#1616a4"/>
<circle cx="457.6" cy="77.7" r="1.65" fill="#1616a4"/>
<circle cx="459.5" cy="79.7" r="1.65" fill="#1616a4"/>
<circle cx="455.6" cy="78.7" r="1.65" fill="#1616a4"/>
<circle cx="464.4" cy="73.8" r="1.65" fill="#1616a4"/>
<circle cx="452.1" cy="91.5" r="1.65" fill="#9030da"/>
<circle cx="453.6" cy="94.0" r="1.65" fill="#9030da"/>
<circle cx="469.4" cy="78.7" r="1.65" fill="#9030da"/>
<circle cx="470.4" cy="81.7" r="1.65" fill="#9030da"/>
<rect x="336.7" y="17.5" width="190.3" height="189.8" fill="none" stroke="#c4c4c4" stroke-width="1"/>
<line x1="398.2" y1="207.3" x2="398.2" y2="205.3" stroke="#b0b0b0" stroke-width="0.8"/>
<line x1="398.2" y1="17.5" x2="398.2" y2="19.5" stroke="#b0b0b0" stroke-width="0.8"/>
<line x1="336.7" y1="146.0" x2="338.7" y2="146.0" stroke="#b0b0b0" stroke-width="0.8"/>
<line x1="527.0" y1="146.0" x2="525.0" y2="146.0" stroke="#b0b0b0" stroke-width="0.8"/>
<line x1="465.5" y1="207.3" x2="465.5" y2="205.3" stroke="#b0b0b0" stroke-width="0.8"/>
<line x1="465.5" y1="17.5" x2="465.5" y2="19.5" stroke="#b0b0b0" stroke-width="0.8"/>
<line x1="336.7" y1="78.8" x2="338.7" y2="78.8" stroke="#b0b0b0" stroke-width="0.8"/>
<line x1="527.0" y1="78.8" x2="525.0" y2="78.8" stroke="#b0b0b0" stroke-width="0.8"/>
<text x="325.1" y="211.6" class="tk" text-anchor="middle">10</text>
<text x="335.6" y="221.0" class="tk" text-anchor="middle">10</text>
<text x="325.1" y="150.3" class="tk" text-anchor="middle">30</text>
<text x="396.9" y="221.0" class="tk" text-anchor="middle">30</text>
<text x="325.1" y="83.1" class="tk" text-anchor="middle">100</text>
<text x="465.8" y="221.0" class="tk" text-anchor="middle">100</text>
<text x="325.1" y="21.8" class="tk" text-anchor="middle">300</text>
<text x="527.1" y="221.0" class="tk" text-anchor="middle">300</text>
<circle cx="349.0" cy="26.1" r="1.55" fill="#4a1830"/>
<text x="357.1" y="28.9" class="lg">Southern Ocean</text>
<circle cx="349.0" cy="34.8" r="1.55" fill="#8c1c22"/>
<text x="357.1" y="37.5" class="lg">Subpolar Gyre</text>
<circle cx="349.0" cy="43.4" r="1.55" fill="#c89050"/>
<text x="357.1" y="46.2" class="lg">Transition Zone</text>
<circle cx="349.0" cy="52.1" r="1.55" fill="#dcd070"/>
<text x="357.1" y="54.9" class="lg">Red Sea</text>
<circle cx="349.0" cy="60.7" r="1.55" fill="#40a040"/>
<text x="357.1" y="63.5" class="lg">Black Sea</text>
<circle cx="349.0" cy="69.3" r="1.55" fill="#50c0c8"/>
<text x="357.1" y="72.2" class="lg">West Med Sea</text>
<circle cx="349.0" cy="78.0" r="1.55" fill="#101070"/>
<text x="357.1" y="80.8" class="lg">East Med Sea</text>
<circle cx="349.0" cy="86.7" r="1.55" fill="#603090"/>
<text x="357.1" y="89.5" class="lg">Subtropical Gyre</text>
<circle cx="349.0" cy="95.3" r="1.55" fill="#000000"/>
<text x="357.1" y="98.1" class="lg">Arctic Sea</text>
<circle cx="349.0" cy="104.0" r="1.55" fill="#454545"/>
<text x="357.1" y="106.8" class="lg">New Caledonia</text>
<line x1="341.7" y1="112.5" x2="355.9" y2="112.5" stroke="#8a8a8a" stroke-width="0.9"/>
<text x="357.1" y="115.4" class="lg">1:1</text>
<text x="481.9" y="175.7" class="st">N=374</text>
<text x="481.9" y="184.5" class="st">MAD=14.0</text>
<text x="481.9" y="193.3" class="st">MAPD=19.7%</text>
<text x="481.9" y="202.1" class="st">MPD=8.4%</text>
<text transform="translate(429.3,193.7) scale(0.93,1.01)" class="lt" text-anchor="middle">(b)</text>
<text x="431.9" y="235.8" class="lb" text-anchor="middle">z<tspan class="sb" dy="4.6">eu</tspan><tspan dy="-4.6"> [m]</tspan></text>
<text transform="translate(307.2,112.4) rotate(-90)" class="lb" text-anchor="middle">z<tspan class="sb" dy="4.6">eu-L07</tspan><tspan dy="-4.6"> [m]</tspan></text>
<line x1="51.6" y1="467.3" x2="242.0" y2="277.5" stroke="#9a9a9a" stroke-width="0.8"/>
<circle cx="196.1" cy="319.8" r="1.65" fill="#9030da"/>
<circle cx="202.5" cy="322.8" r="1.65" fill="#9030da"/>
<circle cx="200.5" cy="323.8" r="1.65" fill="#9030da"/>
<circle cx="199.0" cy="324.8" r="1.65" fill="#9030da"/>
<circle cx="197.1" cy="325.3" r="1.65" fill="#9030da"/>
<circle cx="195.1" cy="325.8" r="1.65" fill="#9030da"/>
<circle cx="193.6" cy="326.7" r="1.65" fill="#9030da"/>
<circle cx="192.2" cy="326.2" r="1.65" fill="#9030da"/>
<circle cx="201.5" cy="325.3" r="1.65" fill="#9030da"/>
<circle cx="187.2" cy="323.8" r="1.65" fill="#9030da"/>
<circle cx="188.7" cy="327.2" r="1.65" fill="#9030da"/>
<circle cx="183.8" cy="330.2" r="1.65" fill="#9030da"/>
<circle cx="191.2" cy="330.7" r="1.65" fill="#9030da"/>
<circle cx="198.5" cy="331.2" r="1.65" fill="#9030da"/>
<circle cx="201.5" cy="334.1" r="1.65" fill="#9030da"/>
<circle cx="189.2" cy="332.6" r="1.65" fill="#9030da"/>
<circle cx="187.7" cy="334.6" r="1.65" fill="#9030da"/>
<circle cx="186.2" cy="336.1" r="1.65" fill="#9030da"/>
<circle cx="184.8" cy="337.6" r="1.65" fill="#9030da"/>
<circle cx="182.8" cy="339.5" r="1.65" fill="#9030da"/>
<circle cx="184.3" cy="341.5" r="1.65" fill="#9030da"/>
<circle cx="185.8" cy="343.5" r="1.65" fill="#9030da"/>
<circle cx="186.7" cy="339.5" r="1.65" fill="#9030da"/>
<circle cx="189.7" cy="337.6" r="1.65" fill="#9030da"/>
<circle cx="192.2" cy="334.6" r="1.65" fill="#9030da"/>
<circle cx="194.6" cy="333.6" r="1.65" fill="#9030da"/>
<circle cx="195.6" cy="336.6" r="1.65" fill="#9030da"/>
<circle cx="197.6" cy="337.1" r="1.65" fill="#9030da"/>
<circle cx="193.1" cy="339.5" r="1.65" fill="#9030da"/>
<circle cx="191.2" cy="337.1" r="1.65" fill="#9030da"/>
<circle cx="183.8" cy="344.4" r="1.65" fill="#9030da"/>
<circle cx="173.9" cy="355.8" r="1.65" fill="#9030da"/>
<circle cx="180.3" cy="336.1" r="1.65" fill="#1616a4"/>
<circle cx="176.9" cy="339.0" r="1.65" fill="#1616a4"/>
<circle cx="174.4" cy="341.0" r="1.65" fill="#1616a4"/>
<circle cx="172.9" cy="342.5" r="1.65" fill="#1616a4"/>
<circle cx="172.0" cy="344.0" r="1.65" fill="#1616a4"/>
<circle cx="171.0" cy="346.9" r="1.65" fill="#1616a4"/>
<circle cx="178.4" cy="344.0" r="1.65" fill="#1616a4"/>
<circle cx="177.4" cy="347.4" r="1.65" fill="#1616a4"/>
<circle cx="170.5" cy="349.4" r="1.65" fill="#1616a4"/>
<circle cx="173.9" cy="351.3" r="1.65" fill="#1616a4"/>
<circle cx="174.4" cy="352.8" r="1.65" fill="#1616a4"/>
<circle cx="186.2" cy="346.6" r="1.65" fill="#505050"/>
<circle cx="195.1" cy="352.1" r="1.65" fill="#44d4dc"/>
<circle cx="188.2" cy="354.8" r="1.65" fill="#44d4dc"/>
<circle cx="184.8" cy="355.8" r="1.65" fill="#44d4dc"/>
<circle cx="178.9" cy="358.2" r="1.65" fill="#44d4dc"/>
<circle cx="170.5" cy="351.3" r="1.65" fill="#44d4dc"/>
<circle cx="201.0" cy="356.3" r="1.65" fill="#aa1c26"/>
<circle cx="172.0" cy="358.7" r="1.65" fill="#e8e050"/>
<circle cx="170.5" cy="356.3" r="1.65" fill="#6a1028"/>
<circle cx="150.0" cy="348.9" r="1.65" fill="#44d4dc"/>
<circle cx="152.5" cy="347.9" r="1.65" fill="#44d4dc"/>
<circle cx="157.4" cy="346.4" r="1.65" fill="#44d4dc"/>
<circle cx="162.3" cy="344.4" r="1.65" fill="#44d4dc"/>
<circle cx="164.8" cy="344.0" r="1.65" fill="#44d4dc"/>
<circle cx="166.3" cy="345.9" r="1.65" fill="#44d4dc"/>
<circle cx="151.5" cy="352.3" r="1.65" fill="#44d4dc"/>
<circle cx="148.5" cy="356.3" r="1.65" fill="#44d4dc"/>
<circle cx="143.6" cy="358.2" r="1.65" fill="#44d4dc"/>
<circle cx="146.6" cy="358.7" r="1.65" fill="#44d4dc"/>
<circle cx="153.5" cy="356.8" r="1.65" fill="#44d4dc"/>
<circle cx="157.4" cy="358.2" r="1.65" fill="#44d4dc"/>
<circle cx="156.4" cy="353.3" r="1.65" fill="#1616a4"/>
<circle cx="159.4" cy="352.3" r="1.65" fill="#1616a4"/>
<circle cx="162.3" cy="350.4" r="1.65" fill="#1616a4"/>
<circle cx="164.8" cy="351.8" r="1.65" fill="#1616a4"/>
<circle cx="167.7" cy="348.9" r="1.65" fill="#1616a4"/>
<circle cx="163.3" cy="354.8" r="1.65" fill="#1616a4"/>
<circle cx="166.3" cy="356.3" r="1.65" fill="#1616a4"/>
<circle cx="160.3" cy="356.3" r="1.65" fill="#1616a4"/>
<circle cx="168.7" cy="355.3" r="1.65" fill="#9030da"/>
<circle cx="168.7" cy="358.2" r="1.65" fill="#6a1028"/>
<circle cx="133.3" cy="364.4" r="1.65" fill="#44d4dc"/>
<circle cx="148.5" cy="362.0" r="1.65" fill="#44d4dc"/>
<circle cx="150.5" cy="363.9" r="1.65" fill="#44d4dc"/>
<circle cx="144.6" cy="367.4" r="1.65" fill="#44d4dc"/>
<circle cx="142.6" cy="369.8" r="1.65" fill="#44d4dc"/>
<circle cx="146.6" cy="369.4" r="1.65" fill="#44d4dc"/>
<circle cx="143.6" cy="372.8" r="1.65" fill="#44d4dc"/>
<circle cx="149.5" cy="370.8" r="1.65" fill="#44d4dc"/>
<circle cx="154.4" cy="369.8" r="1.65" fill="#44d4dc"/>
<circle cx="138.7" cy="373.8" r="1.65" fill="#44d4dc"/>
<circle cx="132.8" cy="376.2" r="1.65" fill="#44d4dc"/>
<circle cx="129.8" cy="382.1" r="1.65" fill="#44d4dc"/>
<circle cx="131.8" cy="381.6" r="1.65" fill="#44d4dc"/>
<circle cx="135.8" cy="382.1" r="1.65" fill="#44d4dc"/>
<circle cx="139.7" cy="381.2" r="1.65" fill="#44d4dc"/>
<circle cx="141.2" cy="383.6" r="1.65" fill="#44d4dc"/>
<circle cx="143.6" cy="383.1" r="1.65" fill="#44d4dc"/>
<circle cx="137.7" cy="384.6" r="1.65" fill="#44d4dc"/>
<circle cx="134.8" cy="386.6" r="1.65" fill="#44d4dc"/>
<circle cx="132.8" cy="388.5" r="1.65" fill="#44d4dc"/>
<circle cx="129.8" cy="391.0" r="1.65" fill="#44d4dc"/>
<circle cx="139.7" cy="388.5" r="1.65" fill="#44d4dc"/>
<circle cx="133.8" cy="393.0" r="1.65" fill="#44d4dc"/>
<circle cx="137.2" cy="394.4" r="1.65" fill="#44d4dc"/>
<circle cx="141.2" cy="395.4" r="1.65" fill="#44d4dc"/>
<circle cx="145.6" cy="393.5" r="1.65" fill="#44d4dc"/>
<circle cx="153.5" cy="393.0" r="1.65" fill="#44d4dc"/>
<circle cx="156.4" cy="391.0" r="1.65" fill="#44d4dc"/>
<circle cx="148.5" cy="381.2" r="1.65" fill="#44d4dc"/>
<circle cx="129.8" cy="396.4" r="1.65" fill="#44d4dc"/>
<circle cx="135.8" cy="399.9" r="1.65" fill="#44d4dc"/>
<circle cx="121.0" cy="394.4" r="1.65" fill="#44d4dc"/>
<circle cx="141.7" cy="367.4" r="1.65" fill="#44d4dc"/>
<circle cx="156.4" cy="361.0" r="1.65" fill="#1616a4"/>
<circle cx="159.4" cy="361.5" r="1.65" fill="#1616a4"/>
<circle cx="163.3" cy="361.0" r="1.65" fill="#1616a4"/>
<circle cx="167.2" cy="362.0" r="1.65" fill="#1616a4"/>
<circle cx="168.2" cy="363.9" r="1.65" fill="#1616a4"/>
<circle cx="145.6" cy="366.4" r="1.65" fill="#1616a4"/>
<circle cx="152.5" cy="367.4" r="1.65" fill="#1616a4"/>
<circle cx="156.4" cy="367.4" r="1.65" fill="#1616a4"/>
<circle cx="161.3" cy="363.9" r="1.65" fill="#1616a4"/>
<circle cx="163.3" cy="365.9" r="1.65" fill="#1616a4"/>
<circle cx="146.6" cy="373.8" r="1.65" fill="#1616a4"/>
<circle cx="149.0" cy="374.3" r="1.65" fill="#1616a4"/>
<circle cx="144.6" cy="378.2" r="1.65" fill="#1616a4"/>
<circle cx="151.5" cy="376.7" r="1.65" fill="#1616a4"/>
<circle cx="154.9" cy="382.1" r="1.65" fill="#1616a4"/>
<circle cx="131.8" cy="378.2" r="1.65" fill="#1616a4"/>
<circle cx="146.1" cy="371.3" r="1.65" fill="#1616a4"/>
<circle cx="159.4" cy="369.8" r="1.65" fill="#aa1c26"/>
<circle cx="162.3" cy="370.8" r="1.65" fill="#aa1c26"/>
<circle cx="168.2" cy="367.9" r="1.65" fill="#aa1c26"/>
<circle cx="159.9" cy="373.8" r="1.65" fill="#aa1c26"/>
<circle cx="136.7" cy="380.2" r="1.65" fill="#aa1c26"/>
<circle cx="138.2" cy="390.0" r="1.65" fill="#aa1c26"/>
<circle cx="124.4" cy="391.5" r="1.65" fill="#aa1c26"/>
<circle cx="125.9" cy="393.5" r="1.65" fill="#aa1c26"/>
<circle cx="126.9" cy="400.4" r="1.65" fill="#aa1c26"/>
<circle cx="123.9" cy="403.8" r="1.65" fill="#aa1c26"/>
<circle cx="134.8" cy="406.3" r="1.65" fill="#aa1c26"/>
<circle cx="120.5" cy="390.5" r="1.65" fill="#aa1c26"/>
<circle cx="151.5" cy="372.3" r="1.65" fill="#6a1028"/>
<circle cx="130.8" cy="389.0" r="1.65" fill="#6a1028"/>
<circle cx="132.3" cy="394.4" r="1.65" fill="#6a1028"/>
<circle cx="126.4" cy="397.4" r="1.65" fill="#6a1028"/>
<circle cx="122.0" cy="400.4" r="1.65" fill="#6a1028"/>
<circle cx="121.5" cy="374.3" r="1.65" fill="#3cb83c"/>
<circle cx="123.4" cy="381.2" r="1.65" fill="#3cb83c"/>
<circle cx="123.9" cy="385.1" r="1.65" fill="#3cb83c"/>
<circle cx="132.8" cy="383.1" r="1.65" fill="#3cb83c"/>
<circle cx="134.8" cy="383.6" r="1.65" fill="#3cb83c"/>
<circle cx="132.8" cy="399.4" r="1.65" fill="#3cb83c"/>
<circle cx="121.0" cy="397.4" r="1.65" fill="#3cb83c"/>
<circle cx="122.0" cy="385.1" r="1.65" fill="#000000"/>
<circle cx="125.9" cy="394.9" r="1.65" fill="#e0a040"/>
<circle cx="172.8" cy="364.1" r="1.65" fill="#6a1028"/>
<circle cx="115.1" cy="383.4" r="1.65" fill="#3cb83c"/>
<circle cx="109.4" cy="388.5" r="1.65" fill="#3cb83c"/>
<circle cx="117.1" cy="389.0" r="1.65" fill="#3cb83c"/>
<circle cx="109.9" cy="398.2" r="1.65" fill="#3cb83c"/>
<circle cx="110.3" cy="402.5" r="1.65" fill="#3cb83c"/>
<circle cx="115.3" cy="409.2" r="1.65" fill="#3cb83c"/>
<circle cx="113.3" cy="388.1" r="1.65" fill="#6a1028"/>
<circle cx="99.5" cy="392.5" r="1.65" fill="#aa1c26"/>
<circle cx="99.0" cy="394.9" r="1.65" fill="#aa1c26"/>
<circle cx="118.2" cy="391.0" r="1.65" fill="#aa1c26"/>
<circle cx="107.2" cy="397.9" r="1.65" fill="#aa1c26"/>
<circle cx="116.8" cy="396.4" r="1.65" fill="#aa1c26"/>
<circle cx="116.3" cy="400.9" r="1.65" fill="#aa1c26"/>
<circle cx="116.8" cy="405.3" r="1.65" fill="#aa1c26"/>
<circle cx="119.2" cy="399.4" r="1.65" fill="#44d4dc"/>
<circle cx="98.1" cy="414.9" r="1.65" fill="#6a1028"/>
<circle cx="101.5" cy="416.4" r="1.65" fill="#6a1028"/>
<circle cx="103.5" cy="426.2" r="1.65" fill="#6a1028"/>
<circle cx="104.5" cy="417.4" r="1.65" fill="#3cb83c"/>
<circle cx="98.1" cy="417.4" r="1.65" fill="#44d4dc"/>
<circle cx="99.5" cy="421.3" r="1.65" fill="#44d4dc"/>
<circle cx="102.5" cy="419.8" r="1.65" fill="#44d4dc"/>
<circle cx="104.0" cy="422.8" r="1.65" fill="#44d4dc"/>
<circle cx="105.9" cy="422.8" r="1.65" fill="#44d4dc"/>
<circle cx="102.5" cy="424.8" r="1.65" fill="#44d4dc"/>
<circle cx="109.4" cy="412.9" r="1.65" fill="#44d4dc"/>
<circle cx="111.3" cy="414.4" r="1.65" fill="#44d4dc"/>
<circle cx="113.3" cy="413.9" r="1.65" fill="#44d4dc"/>
<circle cx="115.3" cy="415.4" r="1.65" fill="#44d4dc"/>
<circle cx="95.1" cy="436.8" r="1.65" fill="#44d4dc"/>
<circle cx="100.5" cy="445.4" r="1.65" fill="#44d4dc"/>
<circle cx="89.7" cy="455.3" r="1.65" fill="#44d4dc"/>
<circle cx="113.3" cy="417.1" r="1.65" fill="#000000"/>
<circle cx="91.5" cy="422.8" r="1.65" fill="#aa1c26"/>
<circle cx="84.3" cy="425.8" r="1.65" fill="#aa1c26"/>
<circle cx="90.2" cy="428.2" r="1.65" fill="#aa1c26"/>
<circle cx="112.5" cy="425.3" r="1.65" fill="#aa1c26"/>
<circle cx="85.8" cy="450.4" r="1.65" fill="#aa1c26"/>
<circle cx="117.1" cy="412.0" r="1.65" fill="#aa1c26"/>
<circle cx="122.2" cy="417.4" r="1.65" fill="#aa1c26"/>
<circle cx="173.1" cy="341.0" r="1.65" fill="#1616a4"/>
<circle cx="174.7" cy="343.4" r="1.65" fill="#1616a4"/>
<circle cx="171.5" cy="345.0" r="1.65" fill="#1616a4"/>
<circle cx="169.9" cy="347.3" r="1.65" fill="#1616a4"/>
<circle cx="168.3" cy="348.9" r="1.65" fill="#1616a4"/>
<circle cx="166.0" cy="350.5" r="1.65" fill="#1616a4"/>
<circle cx="163.6" cy="351.3" r="1.65" fill="#1616a4"/>
<circle cx="161.3" cy="353.6" r="1.65" fill="#1616a4"/>
<circle cx="158.9" cy="353.6" r="1.65" fill="#1616a4"/>
<circle cx="157.3" cy="355.2" r="1.65" fill="#1616a4"/>
<circle cx="163.6" cy="355.2" r="1.65" fill="#1616a4"/>
<circle cx="166.0" cy="356.8" r="1.65" fill="#1616a4"/>
<circle cx="163.6" cy="358.4" r="1.65" fill="#1616a4"/>
<circle cx="161.3" cy="359.1" r="1.65" fill="#1616a4"/>
<circle cx="158.9" cy="360.7" r="1.65" fill="#1616a4"/>
<circle cx="166.0" cy="360.7" r="1.65" fill="#1616a4"/>
<circle cx="167.6" cy="363.1" r="1.65" fill="#1616a4"/>
<circle cx="163.6" cy="363.1" r="1.65" fill="#1616a4"/>
<circle cx="161.3" cy="364.6" r="1.65" fill="#1616a4"/>
<circle cx="158.1" cy="366.2" r="1.65" fill="#1616a4"/>
<circle cx="155.8" cy="367.0" r="1.65" fill="#1616a4"/>
<circle cx="177.0" cy="345.8" r="1.65" fill="#1616a4"/>
<circle cx="177.8" cy="342.6" r="1.65" fill="#1616a4"/>
<circle cx="176.2" cy="339.4" r="1.65" fill="#1616a4"/>
<circle cx="163.6" cy="344.2" r="1.65" fill="#44d4dc"/>
<circle cx="165.2" cy="345.8" r="1.65" fill="#44d4dc"/>
<circle cx="166.8" cy="345.0" r="1.65" fill="#44d4dc"/>
<circle cx="162.8" cy="346.5" r="1.65" fill="#44d4dc"/>
<circle cx="151.8" cy="348.9" r="1.65" fill="#44d4dc"/>
<circle cx="153.4" cy="348.1" r="1.65" fill="#44d4dc"/>
<circle cx="149.4" cy="348.9" r="1.65" fill="#44d4dc"/>
<circle cx="150.2" cy="353.6" r="1.65" fill="#44d4dc"/>
<circle cx="148.7" cy="355.2" r="1.65" fill="#44d4dc"/>
<circle cx="147.9" cy="357.6" r="1.65" fill="#44d4dc"/>
<circle cx="151.8" cy="357.6" r="1.65" fill="#44d4dc"/>
<circle cx="154.2" cy="356.0" r="1.65" fill="#44d4dc"/>
<circle cx="155.8" cy="356.8" r="1.65" fill="#44d4dc"/>
<circle cx="152.6" cy="359.9" r="1.65" fill="#44d4dc"/>
<circle cx="155.0" cy="361.5" r="1.65" fill="#44d4dc"/>
<circle cx="150.2" cy="363.1" r="1.65" fill="#44d4dc"/>
<circle cx="147.9" cy="365.4" r="1.65" fill="#44d4dc"/>
<circle cx="151.0" cy="365.4" r="1.65" fill="#44d4dc"/>
<circle cx="144.7" cy="359.9" r="1.65" fill="#44d4dc"/>
<circle cx="143.2" cy="358.4" r="1.65" fill="#44d4dc"/>
<circle cx="157.3" cy="346.5" r="1.65" fill="#44d4dc"/>
<circle cx="163.6" cy="359.9" r="1.65" fill="#4a1cb0"/>
<circle cx="166.0" cy="359.1" r="1.65" fill="#4a1cb0"/>
<circle cx="173.1" cy="356.0" r="1.65" fill="#4a1cb0"/>
<circle cx="174.7" cy="353.6" r="1.65" fill="#4a1cb0"/>
<circle cx="173.1" cy="363.9" r="1.65" fill="#aa1c26"/>
<circle cx="168.3" cy="367.0" r="1.65" fill="#aa1c26"/>
<circle cx="159.7" cy="365.4" r="1.65" fill="#aa1c26"/>
<circle cx="129.5" cy="388.5" r="1.65" fill="#44d4dc"/>
<circle cx="132.5" cy="387.6" r="1.65" fill="#44d4dc"/>
<circle cx="135.4" cy="385.8" r="1.65" fill="#44d4dc"/>
<circle cx="134.4" cy="393.5" r="1.65" fill="#44d4dc"/>
<circle cx="129.5" cy="396.6" r="1.65" fill="#44d4dc"/>
<circle cx="139.4" cy="389.3" r="1.65" fill="#44d4dc"/>
<circle cx="141.3" cy="383.6" r="1.65" fill="#44d4dc"/>
<circle cx="143.3" cy="381.9" r="1.65" fill="#44d4dc"/>
<circle cx="137.4" cy="381.6" r="1.65" fill="#44d4dc"/>
<circle cx="146.3" cy="379.7" r="1.65" fill="#44d4dc"/>
<circle cx="144.8" cy="383.6" r="1.65" fill="#1616a4"/>
<rect x="51.6" y="277.5" width="190.4" height="189.8" fill="none" stroke="#c4c4c4" stroke-width="1"/>
<line x1="113.1" y1="467.3" x2="113.1" y2="465.3" stroke="#b0b0b0" stroke-width="0.8"/>
<line x1="113.1" y1="277.5" x2="113.1" y2="279.5" stroke="#b0b0b0" stroke-width="0.8"/>
<line x1="51.6" y1="406.0" x2="53.6" y2="406.0" stroke="#b0b0b0" stroke-width="0.8"/>
<line x1="242.0" y1="406.0" x2="240.0" y2="406.0" stroke="#b0b0b0" stroke-width="0.8"/>
<line x1="180.5" y1="467.3" x2="180.5" y2="465.3" stroke="#b0b0b0" stroke-width="0.8"/>
<line x1="180.5" y1="277.5" x2="180.5" y2="279.5" stroke="#b0b0b0" stroke-width="0.8"/>
<line x1="51.6" y1="338.8" x2="53.6" y2="338.8" stroke="#b0b0b0" stroke-width="0.8"/>
<line x1="242.0" y1="338.8" x2="240.0" y2="338.8" stroke="#b0b0b0" stroke-width="0.8"/>
<text x="40.0" y="471.6" class="tk" text-anchor="middle">10</text>
<text x="50.5" y="481.0" class="tk" text-anchor="middle">10</text>
<text x="40.0" y="410.3" class="tk" text-anchor="middle">30</text>
<text x="111.8" y="481.0" class="tk" text-anchor="middle">30</text>
<text x="40.0" y="343.1" class="tk" text-anchor="middle">100</text>
<text x="180.7" y="481.0" class="tk" text-anchor="middle">100</text>
<text x="40.0" y="281.8" class="tk" text-anchor="middle">300</text>
<text x="242.0" y="481.0" class="tk" text-anchor="middle">300</text>
<circle cx="63.9" cy="286.1" r="1.55" fill="#4a1830"/>
<text x="72.0" y="288.9" class="lg">Southern Ocean</text>
<circle cx="63.9" cy="294.8" r="1.55" fill="#8c1c22"/>
<text x="72.0" y="297.5" class="lg">Subpolar Gyre</text>
<circle cx="63.9" cy="303.4" r="1.55" fill="#c89050"/>
<text x="72.0" y="306.2" class="lg">Transition Zone</text>
<circle cx="63.9" cy="312.1" r="1.55" fill="#dcd070"/>
<text x="72.0" y="314.8" class="lg">Red Sea</text>
<circle cx="63.9" cy="320.7" r="1.55" fill="#40a040"/>
<text x="72.0" y="323.5" class="lg">Black Sea</text>
<circle cx="63.9" cy="329.4" r="1.55" fill="#50c0c8"/>
<text x="72.0" y="332.1" class="lg">West Med Sea</text>
<circle cx="63.9" cy="338.0" r="1.55" fill="#101070"/>
<text x="72.0" y="340.8" class="lg">East Med Sea</text>
<circle cx="63.9" cy="346.7" r="1.55" fill="#603090"/>
<text x="72.0" y="349.4" class="lg">Subtropical Gyre</text>
<circle cx="63.9" cy="355.3" r="1.55" fill="#000000"/>
<text x="72.0" y="358.1" class="lg">Arctic Sea</text>
<circle cx="63.9" cy="364.0" r="1.55" fill="#454545"/>
<text x="72.0" y="366.8" class="lg">New Caledonia</text>
<line x1="56.6" y1="372.5" x2="70.8" y2="372.5" stroke="#8a8a8a" stroke-width="0.9"/>
<text x="72.0" y="375.4" class="lg">1:1</text>
<text x="196.8" y="435.7" class="st">N=374</text>
<text x="196.8" y="444.5" class="st">MAD=8.0</text>
<text x="196.8" y="453.3" class="st">MAPD=12.5%</text>
<text x="196.8" y="462.1" class="st">MPD=-1.7%</text>
<text transform="translate(145.0,453.7) scale(0.93,1.01)" class="lt" text-anchor="middle">(c)</text>
<text x="146.8" y="495.8" class="lb" text-anchor="middle">z<tspan class="sb" dy="4.6">eu</tspan><tspan dy="-4.6"> [m]</tspan></text>
<text transform="translate(22.1,372.4) rotate(-90)" class="lb" text-anchor="middle">z<tspan class="sb" dy="4.6">eu-M07</tspan><tspan dy="-4.6"> [m]</tspan></text>
<line x1="337.7" y1="467.2" x2="528.4" y2="277.5" stroke="#9a9a9a" stroke-width="0.8"/>
<circle cx="475.8" cy="287.9" r="1.65" fill="#1616a4"/>
<circle cx="474.4" cy="289.9" r="1.65" fill="#1616a4"/>
<circle cx="466.8" cy="294.4" r="1.65" fill="#1616a4"/>
<circle cx="465.5" cy="312.6" r="1.65" fill="#1616a4"/>
<circle cx="470.9" cy="314.5" r="1.65" fill="#1616a4"/>
<circle cx="472.4" cy="315.5" r="1.65" fill="#1616a4"/>
<circle cx="466.0" cy="317.5" r="1.65" fill="#1616a4"/>
<circle cx="467.0" cy="319.4" r="1.65" fill="#1616a4"/>
<circle cx="479.3" cy="313.5" r="1.65" fill="#1616a4"/>
<circle cx="474.4" cy="321.9" r="1.65" fill="#1616a4"/>
<circle cx="475.8" cy="322.9" r="1.65" fill="#1616a4"/>
<circle cx="468.9" cy="327.8" r="1.65" fill="#1616a4"/>
<circle cx="477.8" cy="326.8" r="1.65" fill="#1616a4"/>
<circle cx="469.9" cy="334.2" r="1.65" fill="#1616a4"/>
<circle cx="485.5" cy="289.1" r="1.65" fill="#9030da"/>
<circle cx="480.3" cy="293.7" r="1.65" fill="#9030da"/>
<circle cx="482.2" cy="295.8" r="1.65" fill="#9030da"/>
<circle cx="486.6" cy="299.3" r="1.65" fill="#9030da"/>
<circle cx="489.1" cy="297.3" r="1.65" fill="#9030da"/>
<circle cx="491.6" cy="297.8" r="1.65" fill="#9030da"/>
<circle cx="488.1" cy="302.7" r="1.65" fill="#9030da"/>
<circle cx="490.6" cy="302.2" r="1.65" fill="#9030da"/>
<circle cx="492.1" cy="304.7" r="1.65" fill="#9030da"/>
<circle cx="489.6" cy="305.7" r="1.65" fill="#9030da"/>
<circle cx="488.6" cy="307.6" r="1.65" fill="#9030da"/>
<circle cx="487.1" cy="309.1" r="1.65" fill="#9030da"/>
<circle cx="485.7" cy="310.6" r="1.65" fill="#9030da"/>
<circle cx="484.7" cy="312.1" r="1.65" fill="#9030da"/>
<circle cx="473.4" cy="302.2" r="1.65" fill="#9030da"/>
<circle cx="474.8" cy="302.7" r="1.65" fill="#9030da"/>
<circle cx="478.8" cy="307.6" r="1.65" fill="#9030da"/>
<circle cx="473.9" cy="310.1" r="1.65" fill="#9030da"/>
<circle cx="476.3" cy="313.5" r="1.65" fill="#9030da"/>
<circle cx="481.7" cy="314.5" r="1.65" fill="#9030da"/>
<circle cx="482.7" cy="318.0" r="1.65" fill="#9030da"/>
<circle cx="474.8" cy="317.5" r="1.65" fill="#9030da"/>
<circle cx="473.4" cy="319.4" r="1.65" fill="#9030da"/>
<circle cx="472.4" cy="324.4" r="1.65" fill="#9030da"/>
<circle cx="470.4" cy="326.3" r="1.65" fill="#9030da"/>
<circle cx="482.7" cy="321.9" r="1.65" fill="#9030da"/>
<circle cx="487.1" cy="319.0" r="1.65" fill="#9030da"/>
<circle cx="490.6" cy="317.5" r="1.65" fill="#9030da"/>
<circle cx="480.8" cy="329.3" r="1.65" fill="#9030da"/>
<circle cx="483.2" cy="331.3" r="1.65" fill="#9030da"/>
<circle cx="478.8" cy="331.3" r="1.65" fill="#9030da"/>
<circle cx="473.4" cy="331.3" r="1.65" fill="#9030da"/>
<circle cx="474.8" cy="328.3" r="1.65" fill="#9030da"/>
<circle cx="465.5" cy="333.2" r="1.65" fill="#44d4dc"/>
<circle cx="461.5" cy="294.6" r="1.65" fill="#1616a4"/>
<circle cx="464.2" cy="313.1" r="1.65" fill="#1616a4"/>
<circle cx="462.0" cy="315.0" r="1.65" fill="#1616a4"/>
<circle cx="454.2" cy="319.0" r="1.65" fill="#1616a4"/>
<circle cx="459.5" cy="327.1" r="1.65" fill="#1616a4"/>
<circle cx="463.2" cy="327.5" r="1.65" fill="#1616a4"/>
<circle cx="460.5" cy="331.3" r="1.65" fill="#1616a4"/>
<circle cx="452.9" cy="333.2" r="1.65" fill="#1616a4"/>
<circle cx="463.2" cy="333.7" r="1.65" fill="#1616a4"/>
<circle cx="454.6" cy="297.1" r="1.65" fill="#44d4dc"/>
<circle cx="447.7" cy="303.7" r="1.65" fill="#44d4dc"/>
<circle cx="456.5" cy="311.4" r="1.65" fill="#44d4dc"/>
<circle cx="449.0" cy="320.2" r="1.65" fill="#44d4dc"/>
<circle cx="454.4" cy="325.2" r="1.65" fill="#44d4dc"/>
<circle cx="449.0" cy="330.8" r="1.65" fill="#44d4dc"/>
<circle cx="451.4" cy="330.8" r="1.65" fill="#44d4dc"/>
<circle cx="444.5" cy="334.2" r="1.65" fill="#44d4dc"/>
<circle cx="464.2" cy="319.4" r="1.65" fill="#9030da"/>
<circle cx="444.5" cy="336.0" r="1.65" fill="#44d4dc"/>
<circle cx="446.5" cy="337.0" r="1.65" fill="#44d4dc"/>
<circle cx="455.4" cy="336.5" r="1.65" fill="#44d4dc"/>
<circle cx="459.8" cy="337.0" r="1.65" fill="#44d4dc"/>
<circle cx="440.6" cy="340.9" r="1.65" fill="#44d4dc"/>
<circle cx="438.1" cy="344.4" r="1.65" fill="#44d4dc"/>
<circle cx="436.2" cy="346.8" r="1.65" fill="#44d4dc"/>
<circle cx="439.6" cy="346.3" r="1.65" fill="#44d4dc"/>
<circle cx="442.1" cy="347.3" r="1.65" fill="#44d4dc"/>
<circle cx="444.5" cy="344.8" r="1.65" fill="#44d4dc"/>
<circle cx="437.1" cy="349.8" r="1.65" fill="#44d4dc"/>
<circle cx="439.6" cy="350.8" r="1.65" fill="#44d4dc"/>
<circle cx="442.6" cy="351.2" r="1.65" fill="#44d4dc"/>
<circle cx="445.0" cy="352.2" r="1.65" fill="#44d4dc"/>
<circle cx="446.5" cy="348.8" r="1.65" fill="#44d4dc"/>
<circle cx="433.7" cy="346.3" r="1.65" fill="#44d4dc"/>
<circle cx="421.9" cy="359.6" r="1.65" fill="#44d4dc"/>
<circle cx="429.8" cy="363.5" r="1.65" fill="#44d4dc"/>
<circle cx="432.2" cy="363.1" r="1.65" fill="#44d4dc"/>
<circle cx="423.9" cy="366.5" r="1.65" fill="#44d4dc"/>
<circle cx="422.9" cy="370.4" r="1.65" fill="#44d4dc"/>
<circle cx="424.8" cy="372.4" r="1.65" fill="#44d4dc"/>
<circle cx="418.9" cy="375.4" r="1.65" fill="#44d4dc"/>
<circle cx="435.7" cy="378.3" r="1.65" fill="#44d4dc"/>
<circle cx="437.6" cy="378.8" r="1.65" fill="#44d4dc"/>
<circle cx="439.6" cy="379.8" r="1.65" fill="#44d4dc"/>
<circle cx="460.3" cy="359.6" r="1.65" fill="#44d4dc"/>
<circle cx="446.5" cy="357.1" r="1.65" fill="#44d4dc"/>
<circle cx="443.5" cy="357.1" r="1.65" fill="#44d4dc"/>
<circle cx="435.2" cy="356.2" r="1.65" fill="#44d4dc"/>
<circle cx="443.5" cy="338.9" r="1.65" fill="#1616a4"/>
<circle cx="450.4" cy="340.4" r="1.65" fill="#1616a4"/>
<circle cx="451.9" cy="341.9" r="1.65" fill="#1616a4"/>
<circle cx="453.9" cy="342.9" r="1.65" fill="#1616a4"/>
<circle cx="455.9" cy="338.9" r="1.65" fill="#1616a4"/>
<circle cx="458.3" cy="337.9" r="1.65" fill="#1616a4"/>
<circle cx="461.3" cy="337.0" r="1.65" fill="#1616a4"/>
<circle cx="449.4" cy="343.4" r="1.65" fill="#1616a4"/>
<circle cx="449.0" cy="346.8" r="1.65" fill="#1616a4"/>
<circle cx="454.9" cy="346.3" r="1.65" fill="#1616a4"/>
<circle cx="458.3" cy="347.3" r="1.65" fill="#1616a4"/>
<circle cx="460.8" cy="346.8" r="1.65" fill="#1616a4"/>
<circle cx="450.9" cy="352.2" r="1.65" fill="#1616a4"/>
<circle cx="453.4" cy="353.2" r="1.65" fill="#1616a4"/>
<circle cx="435.2" cy="357.6" r="1.65" fill="#1616a4"/>
<circle cx="440.1" cy="360.1" r="1.65" fill="#1616a4"/>
<circle cx="443.5" cy="359.6" r="1.65" fill="#1616a4"/>
<circle cx="445.0" cy="361.1" r="1.65" fill="#1616a4"/>
<circle cx="443.5" cy="363.5" r="1.65" fill="#1616a4"/>
<circle cx="446.5" cy="363.5" r="1.65" fill="#1616a4"/>
<circle cx="449.0" cy="364.5" r="1.65" fill="#1616a4"/>
<circle cx="447.5" cy="367.0" r="1.65" fill="#1616a4"/>
<circle cx="442.6" cy="367.0" r="1.65" fill="#1616a4"/>
<circle cx="441.6" cy="369.0" r="1.65" fill="#1616a4"/>
<circle cx="444.0" cy="369.4" r="1.65" fill="#1616a4"/>
<circle cx="436.6" cy="367.0" r="1.65" fill="#1616a4"/>
<circle cx="433.2" cy="369.4" r="1.65" fill="#1616a4"/>
<circle cx="436.2" cy="374.9" r="1.65" fill="#1616a4"/>
<circle cx="434.2" cy="376.3" r="1.65" fill="#1616a4"/>
<circle cx="427.8" cy="377.8" r="1.65" fill="#1616a4"/>
<circle cx="426.8" cy="379.3" r="1.65" fill="#1616a4"/>
<circle cx="428.8" cy="380.3" r="1.65" fill="#1616a4"/>
<circle cx="437.6" cy="382.2" r="1.65" fill="#1616a4"/>
<circle cx="440.6" cy="380.8" r="1.65" fill="#1616a4"/>
<circle cx="416.0" cy="375.4" r="1.65" fill="#44d4dc"/>
<circle cx="456.8" cy="352.7" r="1.65" fill="#aa1c26"/>
<circle cx="451.4" cy="358.6" r="1.65" fill="#aa1c26"/>
<circle cx="454.4" cy="359.1" r="1.65" fill="#aa1c26"/>
<circle cx="463.2" cy="358.6" r="1.65" fill="#aa1c26"/>
<circle cx="454.9" cy="366.5" r="1.65" fill="#aa1c26"/>
<circle cx="450.4" cy="371.9" r="1.65" fill="#aa1c26"/>
<circle cx="441.6" cy="371.9" r="1.65" fill="#aa1c26"/>
<circle cx="444.0" cy="377.1" r="1.65" fill="#aa1c26"/>
<circle cx="437.1" cy="369.4" r="1.65" fill="#aa1c26"/>
<circle cx="433.2" cy="376.3" r="1.65" fill="#aa1c26"/>
<circle cx="429.8" cy="373.9" r="1.65" fill="#6a1028"/>
<circle cx="452.4" cy="366.5" r="1.65" fill="#6a1028"/>
<circle cx="438.1" cy="363.5" r="1.65" fill="#6a1028"/>
<circle cx="454.4" cy="344.8" r="1.65" fill="#9030da"/>
<circle cx="449.4" cy="365.5" r="1.65" fill="#9030da"/>
<circle cx="438.6" cy="364.5" r="1.65" fill="#e0a040"/>
<circle cx="416.5" cy="378.3" r="1.65" fill="#3cb83c"/>
<circle cx="416.0" cy="380.3" r="1.65" fill="#3cb83c"/>
<circle cx="421.9" cy="380.3" r="1.65" fill="#3cb83c"/>
<circle cx="468.9" cy="336.0" r="1.65" fill="#9030da"/>
<circle cx="473.4" cy="336.0" r="1.65" fill="#9030da"/>
<circle cx="468.4" cy="338.4" r="1.65" fill="#9030da"/>
<circle cx="471.7" cy="341.4" r="1.65" fill="#9030da"/>
<circle cx="470.9" cy="343.9" r="1.65" fill="#9030da"/>
<circle cx="468.4" cy="347.3" r="1.65" fill="#9030da"/>
<circle cx="466.0" cy="345.3" r="1.65" fill="#44d4dc"/>
<circle cx="472.4" cy="354.5" r="1.65" fill="#44d4dc"/>
<circle cx="402.9" cy="377.5" r="1.65" fill="#3cb83c"/>
<circle cx="409.8" cy="376.3" r="1.65" fill="#3cb83c"/>
<circle cx="412.0" cy="378.3" r="1.65" fill="#3cb83c"/>
<circle cx="413.7" cy="380.3" r="1.65" fill="#3cb83c"/>
<circle cx="400.4" cy="384.2" r="1.65" fill="#3cb83c"/>
<circle cx="409.3" cy="384.2" r="1.65" fill="#000000"/>
<circle cx="388.4" cy="396.0" r="1.65" fill="#aa1c26"/>
<circle cx="399.9" cy="395.3" r="1.65" fill="#aa1c26"/>
<circle cx="390.4" cy="403.2" r="1.65" fill="#aa1c26"/>
<circle cx="390.8" cy="404.7" r="1.65" fill="#aa1c26"/>
<circle cx="405.4" cy="405.2" r="1.65" fill="#aa1c26"/>
<circle cx="407.3" cy="406.2" r="1.65" fill="#aa1c26"/>
<circle cx="411.3" cy="410.8" r="1.65" fill="#aa1c26"/>
<circle cx="412.2" cy="415.0" r="1.65" fill="#aa1c26"/>
<circle cx="406.8" cy="415.3" r="1.65" fill="#aa1c26"/>
<circle cx="399.4" cy="411.4" r="1.65" fill="#aa1c26"/>
<circle cx="378.8" cy="425.6" r="1.65" fill="#aa1c26"/>
<circle cx="376.8" cy="427.1" r="1.65" fill="#aa1c26"/>
<circle cx="369.4" cy="430.3" r="1.65" fill="#aa1c26"/>
<circle cx="400.9" cy="430.3" r="1.65" fill="#aa1c26"/>
<circle cx="409.8" cy="393.4" r="1.65" fill="#aa1c26"/>
<circle cx="393.1" cy="412.1" r="1.65" fill="#6a1028"/>
<circle cx="399.9" cy="404.7" r="1.65" fill="#6a1028"/>
<circle cx="387.6" cy="417.5" r="1.65" fill="#6a1028"/>
<circle cx="409.8" cy="399.8" r="1.65" fill="#6a1028"/>
<circle cx="404.9" cy="395.3" r="1.65" fill="#1616a4"/>
<circle cx="386.2" cy="415.0" r="1.65" fill="#3cb83c"/>
<circle cx="384.2" cy="419.9" r="1.65" fill="#3cb83c"/>
<circle cx="382.7" cy="424.4" r="1.65" fill="#3cb83c"/>
<circle cx="404.4" cy="387.5" r="1.65" fill="#3cb83c"/>
<circle cx="410.3" cy="388.9" r="1.65" fill="#3cb83c"/>
<circle cx="399.4" cy="402.2" r="1.65" fill="#44d4dc"/>
<circle cx="398.5" cy="407.6" r="1.65" fill="#44d4dc"/>
<circle cx="401.4" cy="408.1" r="1.65" fill="#44d4dc"/>
<circle cx="403.9" cy="409.1" r="1.65" fill="#44d4dc"/>
<circle cx="404.4" cy="411.1" r="1.65" fill="#44d4dc"/>
<circle cx="389.1" cy="411.6" r="1.65" fill="#44d4dc"/>
<circle cx="391.1" cy="416.5" r="1.65" fill="#44d4dc"/>
<circle cx="391.6" cy="418.5" r="1.65" fill="#44d4dc"/>
<circle cx="394.5" cy="422.4" r="1.65" fill="#44d4dc"/>
<circle cx="383.2" cy="428.3" r="1.65" fill="#44d4dc"/>
<circle cx="407.3" cy="397.8" r="1.65" fill="#44d4dc"/>
<circle cx="410.3" cy="395.8" r="1.65" fill="#44d4dc"/>
<circle cx="413.2" cy="396.8" r="1.65" fill="#44d4dc"/>
<circle cx="412.2" cy="399.8" r="1.65" fill="#44d4dc"/>
<circle cx="411.3" cy="402.2" r="1.65" fill="#44d4dc"/>
<circle cx="414.2" cy="401.7" r="1.65" fill="#44d4dc"/>
<circle cx="408.3" cy="400.8" r="1.65" fill="#44d4dc"/>
<circle cx="413.2" cy="390.9" r="1.65" fill="#44d4dc"/>
<circle cx="395.5" cy="416.3" r="1.65" fill="#e0a040"/>
<circle cx="399.4" cy="421.4" r="1.65" fill="#000000"/>
<circle cx="420.9" cy="387.0" r="1.65" fill="#44d4dc"/>
<circle cx="427.8" cy="386.5" r="1.65" fill="#44d4dc"/>
<circle cx="430.3" cy="386.5" r="1.65" fill="#44d4dc"/>
<circle cx="418.9" cy="389.9" r="1.65" fill="#44d4dc"/>
<circle cx="421.9" cy="392.4" r="1.65" fill="#44d4dc"/>
<circle cx="420.9" cy="394.8" r="1.65" fill="#44d4dc"/>
<circle cx="424.8" cy="397.8" r="1.65" fill="#44d4dc"/>
<circle cx="418.9" cy="400.3" r="1.65" fill="#44d4dc"/>
<circle cx="416.0" cy="397.8" r="1.65" fill="#44d4dc"/>
<circle cx="443.0" cy="389.4" r="1.65" fill="#44d4dc"/>
<circle cx="432.2" cy="392.4" r="1.65" fill="#44d4dc"/>
<circle cx="420.4" cy="412.4" r="1.65" fill="#44d4dc"/>
<circle cx="416.0" cy="401.7" r="1.65" fill="#44d4dc"/>
<circle cx="424.4" cy="393.9" r="1.65" fill="#1616a4"/>
<circle cx="419.9" cy="390.9" r="1.65" fill="#6a1028"/>
<circle cx="417.0" cy="395.3" r="1.65" fill="#6a1028"/>
<circle cx="431.7" cy="391.1" r="1.65" fill="#6a1028"/>
<circle cx="443.5" cy="392.1" r="1.65" fill="#6a1028"/>
<circle cx="425.8" cy="386.0" r="1.65" fill="#6a1028"/>
<circle cx="423.7" cy="409.1" r="1.65" fill="#aa1c26"/>
<circle cx="415.5" cy="386.5" r="1.65" fill="#aa1c26"/>
<circle cx="381.2" cy="437.9" r="1.65" fill="#3cb83c"/>
<circle cx="389.1" cy="437.5" r="1.65" fill="#44d4dc"/>
<circle cx="377.6" cy="447.1" r="1.65" fill="#44d4dc"/>
<circle cx="376.3" cy="449.7" r="1.65" fill="#6a1028"/>
<circle cx="437.8" cy="347.4" r="1.65" fill="#44d4dc"/>
<circle cx="440.2" cy="349.8" r="1.65" fill="#44d4dc"/>
<circle cx="442.8" cy="348.4" r="1.65" fill="#44d4dc"/>
<circle cx="444.9" cy="350.9" r="1.65" fill="#44d4dc"/>
<circle cx="441.6" cy="352.1" r="1.65" fill="#44d4dc"/>
<circle cx="439.2" cy="345.0" r="1.65" fill="#44d4dc"/>
<circle cx="435.7" cy="348.6" r="1.65" fill="#44d4dc"/>
<circle cx="443.9" cy="346.2" r="1.65" fill="#44d4dc"/>
<circle cx="446.3" cy="343.9" r="1.65" fill="#44d4dc"/>
<circle cx="444.9" cy="336.5" r="1.65" fill="#44d4dc"/>
<circle cx="447.2" cy="333.2" r="1.65" fill="#44d4dc"/>
<circle cx="449.6" cy="331.2" r="1.65" fill="#44d4dc"/>
<circle cx="431.9" cy="362.5" r="1.65" fill="#44d4dc"/>
<circle cx="429.5" cy="363.7" r="1.65" fill="#44d4dc"/>
<circle cx="418.5" cy="376.1" r="1.65" fill="#44d4dc"/>
<circle cx="420.6" cy="374.6" r="1.65" fill="#44d4dc"/>
<circle cx="423.4" cy="372.6" r="1.65" fill="#44d4dc"/>
<circle cx="425.4" cy="370.7" r="1.65" fill="#44d4dc"/>
<circle cx="430.3" cy="366.7" r="1.65" fill="#44d4dc"/>
<circle cx="422.4" cy="379.5" r="1.65" fill="#44d4dc"/>
<circle cx="424.4" cy="381.7" r="1.65" fill="#44d4dc"/>
<circle cx="427.3" cy="383.7" r="1.65" fill="#44d4dc"/>
<circle cx="429.3" cy="385.6" r="1.65" fill="#44d4dc"/>
<circle cx="426.3" cy="387.6" r="1.65" fill="#44d4dc"/>
<circle cx="422.4" cy="389.6" r="1.65" fill="#44d4dc"/>
<circle cx="419.4" cy="391.5" r="1.65" fill="#44d4dc"/>
<circle cx="416.5" cy="393.5" r="1.65" fill="#44d4dc"/>
<circle cx="413.5" cy="396.3" r="1.65" fill="#44d4dc"/>
<circle cx="430.3" cy="391.5" r="1.65" fill="#44d4dc"/>
<circle cx="432.2" cy="387.6" r="1.65" fill="#44d4dc"/>
<circle cx="431.3" cy="379.5" r="1.65" fill="#44d4dc"/>
<circle cx="428.3" cy="379.5" r="1.65" fill="#44d4dc"/>
<rect x="337.7" y="277.5" width="190.7" height="189.7" fill="none" stroke="#c4c4c4" stroke-width="1"/>
<line x1="399.3" y1="467.2" x2="399.3" y2="465.2" stroke="#b0b0b0" stroke-width="0.8"/>
<line x1="399.3" y1="277.5" x2="399.3" y2="279.5" stroke="#b0b0b0" stroke-width="0.8"/>
<line x1="337.7" y1="405.9" x2="339.7" y2="405.9" stroke="#b0b0b0" stroke-width="0.8"/>
<line x1="528.4" y1="405.9" x2="526.4" y2="405.9" stroke="#b0b0b0" stroke-width="0.8"/>
<line x1="466.8" y1="467.2" x2="466.8" y2="465.2" stroke="#b0b0b0" stroke-width="0.8"/>
<line x1="466.8" y1="277.5" x2="466.8" y2="279.5" stroke="#b0b0b0" stroke-width="0.8"/>
<line x1="337.7" y1="338.8" x2="339.7" y2="338.8" stroke="#b0b0b0" stroke-width="0.8"/>
<line x1="528.4" y1="338.8" x2="526.4" y2="338.8" stroke="#b0b0b0" stroke-width="0.8"/>
<text x="326.1" y="471.5" class="tk" text-anchor="middle">10</text>
<text x="336.6" y="480.9" class="tk" text-anchor="middle">10</text>
<text x="326.1" y="410.2" class="tk" text-anchor="middle">30</text>
<text x="397.9" y="480.9" class="tk" text-anchor="middle">30</text>
<text x="326.1" y="343.1" class="tk" text-anchor="middle">100</text>
<text x="466.8" y="480.9" class="tk" text-anchor="middle">100</text>
<text x="326.1" y="281.8" class="tk" text-anchor="middle">300</text>
<text x="528.1" y="480.9" class="tk" text-anchor="middle">300</text>
<circle cx="350.0" cy="286.1" r="1.55" fill="#4a1830"/>
<text x="358.1" y="288.9" class="lg">Southern Ocean</text>
<circle cx="350.0" cy="294.8" r="1.55" fill="#8c1c22"/>
<text x="358.1" y="297.5" class="lg">Subpolar Gyre</text>
<circle cx="350.0" cy="303.4" r="1.55" fill="#c89050"/>
<text x="358.1" y="306.2" class="lg">Transition Zone</text>
<circle cx="350.0" cy="312.1" r="1.55" fill="#dcd070"/>
<text x="358.1" y="314.8" class="lg">Red Sea</text>
<circle cx="350.0" cy="320.7" r="1.55" fill="#40a040"/>
<text x="358.1" y="323.5" class="lg">Black Sea</text>
<circle cx="350.0" cy="329.4" r="1.55" fill="#50c0c8"/>
<text x="358.1" y="332.1" class="lg">West Med Sea</text>
<circle cx="350.0" cy="338.0" r="1.55" fill="#101070"/>
<text x="358.1" y="340.8" class="lg">East Med Sea</text>
<circle cx="350.0" cy="346.7" r="1.55" fill="#603090"/>
<text x="358.1" y="349.4" class="lg">Subtropical Gyre</text>
<circle cx="350.0" cy="355.3" r="1.55" fill="#000000"/>
<text x="358.1" y="358.1" class="lg">Arctic Sea</text>
<circle cx="350.0" cy="364.0" r="1.55" fill="#454545"/>
<text x="358.1" y="366.8" class="lg">New Caledonia</text>
<line x1="342.7" y1="372.5" x2="356.9" y2="372.5" stroke="#8a8a8a" stroke-width="0.9"/>
<text x="358.1" y="375.4" class="lg">1:1</text>
<text x="482.9" y="435.7" class="st">N=374</text>
<text x="482.9" y="444.5" class="st">MAD=16.4</text>
<text x="482.9" y="453.3" class="st">MAPD=21.3%</text>
<text x="482.9" y="462.1" class="st">MPD=10.2%</text>
<text transform="translate(427.5,453.7) scale(0.93,1.01)" class="lt" text-anchor="middle">(d)</text>
<text x="433.0" y="495.7" class="lb" text-anchor="middle">z<tspan class="sb" dy="4.6">0.415</tspan><tspan dy="-4.6"> [m]</tspan></text>
<text transform="translate(308.2,372.4) rotate(-90)" class="lb" text-anchor="middle">z<tspan class="sb" dy="4.6">0.415-L07</tspan><tspan dy="-4.6"> [m]</tspan></text>
</svg>
</body></html>
